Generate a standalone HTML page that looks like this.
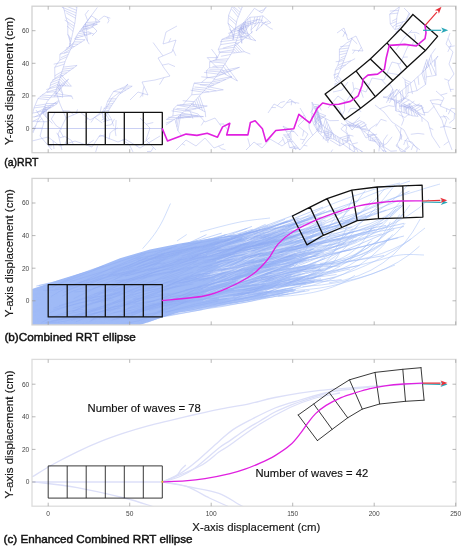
<!DOCTYPE html><html><head><meta charset="utf-8"><title>RRT figure</title>
<style>html,body{margin:0;padding:0;background:#fff}svg{display:block}text{font-family:"Liberation Sans",Arial,sans-serif}</style></head><body>
<svg width="466" height="550" viewBox="0 0 466 550">
<rect width="466" height="550" fill="#fff"/>
<clipPath id="c0"><rect x="32.0" y="6.2" width="424.0" height="146.5"/></clipPath>
<clipPath id="c1"><rect x="32.0" y="178.4" width="424.0" height="146.5"/></clipPath>
<clipPath id="c2"><rect x="32.0" y="359.4" width="424.0" height="146.8"/></clipPath>
<g clip-path="url(#c0)"><path d="M97.3 7.5L77.2 34.7L70.3 50.0L65.4 60.7L55.8 91.2L47.2 101.5L38.0 120.0L33.0 133.0M73.8 42.3L69.3 46.9M72.7 44.7L66.0 48.3M71.6 47.1L64.8 50.7M70.5 49.5L63.9 53.1M69.4 51.9L59.9 54.2M68.3 54.3L61.0 57.6M67.2 56.7L59.9 60.0M65.1 61.6L53.7 64.2M64.3 64.1L54.7 67.3M62.0 71.6L54.8 75.7M61.2 74.1L54.9 78.4M60.4 76.6L52.0 80.3M59.6 79.2L50.9 82.7M58.8 81.7L50.2 85.3M58.0 84.2L49.7 87.9M57.2 86.7L46.3 89.5M56.4 89.2L46.3 92.3M55.4 91.6L47.0 92.4M52.1 95.7L42.0 95.0M50.4 97.7L40.0 96.8M48.7 99.7L37.9 98.6M45.9 104.1L35.5 105.7M44.7 106.5L34.0 107.9M43.5 108.9L36.9 112.3M42.4 111.2L32.7 113.1M41.2 113.6L34.5 117.0M40.0 115.9L29.6 117.5M38.8 118.3L32.4 121.8M35.8 125.6L30.9 130.2M34.9 128.1L31.4 133.2M69.3 46.9L64.8 50.7L59.9 54.2L59.9 60.0L54.7 67.3L54.9 78.4L50.9 82.7L49.7 87.9L46.3 92.3L42.0 95.0L37.9 98.6L34.0 107.9L32.7 113.1L29.6 117.5L30.9 130.2M83.1 26.7L97.4 24.2L79.6 31.4M81.4 29.1L88.5 27.8M46.2 103.5L57.4 103.6L41.2 113.6M45.2 105.6L54.2 105.6M44.2 107.6L50.9 107.6M43.2 109.6L47.7 109.6M42.2 111.6L44.4 111.6M85.4 23.6L87.5 41.3L81.6 28.8M83.5 26.2L84.6 35.1M87.5 41.3L89.2 44.2M86.2 22.5L100.1 21.6L82.2 27.9M84.9 24.3L94.2 23.7M83.6 26.1L88.2 25.8M63.4 67.1L77.1 65.4L60.1 77.7M62.7 69.2L73.7 67.9M62.1 71.3L70.3 70.3M61.4 73.4L66.9 72.8M60.7 75.6L63.5 75.2M75.0 39.5L85.1 39.7L70.9 48.8M74.0 41.8L81.6 42.0M72.9 44.1L78.0 44.3M71.9 46.5L74.4 46.5M58.8 81.8L62.6 93.5L57.1 87.2M57.9 84.5L59.8 90.4M62.6 93.5L62.3 97.8M45.0 105.9L48.4 119.5L41.9 112.2M44.0 108.0L46.2 117.1M42.9 110.1L44.1 114.6M48.4 119.5L52.5 123.6M43.4 109.2L55.9 102.3L40.3 115.4M42.4 111.2L50.7 106.7M41.3 113.3L45.5 111.0M55.9 102.3L58.6 100.5M79.6 31.4L91.3 33.7L74.3 38.6M78.3 33.2L87.0 35.0M77.0 35.0L82.8 36.2M75.6 36.8L78.5 37.4M56.7 88.3L68.6 79.1L54.0 96.9M56.0 90.4L65.0 83.6M55.4 92.6L61.3 88.0M54.7 94.8L57.6 92.5M54.1 93.2L71.6 96.0L50.8 97.1M52.5 95.2L61.2 96.6M71.6 96.0L72.9 99.1M61.0 74.7L71.4 86.2L57.6 85.5M60.3 76.9L68.6 86.0M59.6 79.0L65.9 85.9M58.9 81.2L63.1 85.8M58.3 83.4L60.3 85.6M77.2 5.0L74.9 22.9L71.3 39.4L69.5 47.0M77.2 5.0L74.8 0.7M76.9 7.6L69.0 2.6M76.5 10.3L62.0 4.4M76.2 12.9L61.7 7.1M75.8 15.6L64.2 10.1M75.5 18.2L66.3 13.0M74.8 23.5L65.8 17.5M74.2 26.1L64.6 20.0M73.6 28.8L67.8 23.4M73.1 31.4L67.0 26.0M71.3 39.2L67.8 34.3M70.7 41.8L69.3 37.3M70.1 44.4L69.7 40.2M69.5 47.0L70.1 43.0M74.8 0.7L62.0 4.4L64.2 10.1L65.8 17.5L67.8 23.4L67.8 34.3L69.7 40.2M84.3 25.2L91.4 15.8L98.5 20.5L104.0 16.0L110.3 18.2M87.7 20.7L85.3 14.4M85.3 14.4L88.7 10.0M95.3 18.4L96.4 23.4M107.3 17.2L109.0 20.4M109.0 20.4L107.5 23.3M86.0 30.0L93.0 27.0L97.0 31.0L92.0 36.0M92.2 27.3L94.7 22.6M93.9 34.1L87.3 31.3M55.8 91.2L60.0 104.0L66.0 118.0L58.0 134.0L62.0 150.0M59.1 101.4L55.6 103.8M62.9 110.8L69.3 111.1M69.3 111.1L73.6 114.7M59.8 130.4L63.5 137.3M32.0 141.0L48.0 137.0L60.0 146.0L75.0 141.0L92.0 147.0L100.0 135.0L118.0 142.0L125.0 139.0L140.0 148.0L160.0 136.0M53.0 140.8L54.0 149.0M64.8 144.4L67.4 138.9M86.4 145.0L93.7 140.2M98.9 136.7L105.3 134.8M122.5 140.1L129.2 144.3M129.2 144.3L133.2 152.3M136.0 145.6L142.1 144.0M142.1 144.0L149.6 137.6M66.0 118.0L80.0 112.0L90.0 120.0L104.0 112.0L112.0 98.0L120.0 92.0M76.2 113.6L77.5 109.3M87.6 118.1L85.3 122.9M94.5 117.4L102.2 123.0M36.0 110.0L44.0 122.0L40.0 136.0L52.0 150.0M41.7 118.5L37.9 122.4M42.3 128.1L36.5 128.2M36.5 128.2L28.9 128.2M48.4 145.8L52.1 145.9M128.0 84.0L118.0 96.0L110.0 108.0L104.0 120.0M128.0 84.0L124.9 86.7M124.5 88.2L119.8 89.4M121.0 92.3L113.6 91.4M116.1 98.8L109.0 98.9M114.6 101.1L107.6 101.2M113.1 103.3L107.6 104.5M111.6 105.6L105.9 106.6M110.1 107.9L103.5 108.3M108.9 110.3L102.4 111.5M107.6 112.7L103.4 115.1M106.4 115.1L102.7 117.7M105.2 117.6L101.5 120.2M124.9 86.7L113.6 91.4L107.6 101.2L105.9 106.6L102.4 111.5L102.7 117.7M126.3 86.0L132.2 86.2L119.9 93.8M124.7 88.0L129.1 88.1M123.1 89.9L126.0 90.0M121.5 91.8L122.9 91.9M107.6 112.9L111.6 119.4L103.1 121.8M106.4 115.1L109.5 120.0M105.3 117.4L107.3 120.6M104.2 119.6L105.2 121.2M111.6 119.4L113.6 126.2M140.0 118.0L150.0 128.0L146.0 140.0L156.0 150.0M146.2 124.2L153.3 122.5M153.4 147.4L151.1 151.4M151.1 151.4L147.0 151.5M177.0 26.0L166.0 32.0L163.0 44.0L176.0 40.0L172.0 52.0L158.0 58.0L164.0 68.0L170.0 76.0L155.0 80.0L142.0 82.0L148.0 95.0L138.0 92.0L130.0 100.0M168.8 42.2L170.8 38.2M172.9 49.3L175.9 55.8M163.0 55.9L157.7 48.8M157.7 48.8L153.1 42.5M162.3 65.1L168.5 63.8M168.5 63.8L175.0 66.6M163.8 77.7L159.5 84.7M144.0 86.4L143.0 90.7M143.0 90.7L142.7 96.5M142.8 93.4L140.0 97.5M254.4 8.3L241.5 25.5L232.9 51.2L222.2 68.4L213.6 80.0L203.0 92.0L190.0 106.0L178.0 117.0L166.0 125.0M243.4 22.9L237.0 26.9M241.8 25.0L235.0 28.7M240.9 27.4L231.0 31.5M240.0 29.9L228.2 33.4M239.2 32.4L228.8 36.3M238.4 34.9L226.0 38.1M237.5 37.4L221.8 39.5M236.7 39.8L220.2 41.7M235.9 42.3L220.6 44.6M235.0 44.8L222.8 48.1M234.2 47.3L218.3 49.3M233.4 49.8L218.5 52.2M232.3 52.1L219.9 52.6M230.9 54.4L220.9 56.3M228.2 58.8L216.3 59.6M226.8 61.0L213.1 60.8M225.4 63.2L209.7 61.7M224.0 65.5L212.5 66.5M222.6 67.7L209.6 67.8M221.1 69.8L209.3 69.8M219.6 71.9L206.3 70.8M218.0 74.0L204.1 72.4M216.5 76.1L207.1 77.9M214.9 78.2L201.3 76.8M211.6 82.3L201.3 82.5M209.9 84.2L200.1 84.9M208.1 86.2L194.1 83.1M206.4 88.2L194.5 87.0M204.7 90.1L192.6 88.8M202.9 92.1L190.6 90.2M201.2 94.0L191.7 94.8M194.0 101.7L182.7 100.7M192.3 103.6L183.1 104.6M190.5 105.5L179.7 105.0M188.6 107.3L177.1 105.2M186.7 109.1L176.6 108.5M184.7 110.8L173.5 109.0M182.8 112.6L171.6 110.8M180.9 114.4L172.9 116.0M176.9 117.7L168.1 117.2M174.7 119.2L166.4 119.4M172.5 120.6L165.8 123.2M237.0 26.9L231.0 31.5L228.8 36.3L221.8 39.5L220.6 44.6L218.3 49.3L219.9 52.6L216.3 59.6L209.7 61.7L209.6 67.8L206.3 70.8L207.1 77.9L201.3 82.5L194.1 83.1L192.6 88.8L191.7 94.8L183.1 104.6L177.1 105.2L173.5 109.0L172.9 116.0L166.4 119.4M182.2 113.1L198.5 116.0L176.1 118.8M180.2 115.0L191.1 116.9M178.1 116.9L183.6 117.8M199.5 95.8L205.2 111.9L191.4 104.5M197.9 97.5L202.5 110.4M196.3 99.2L199.7 108.9M194.7 101.0L197.0 107.4M193.1 102.7L194.2 105.9M205.2 111.9L205.7 117.1M237.3 38.1L248.6 35.2L234.5 46.3M236.4 40.8L243.9 38.9M235.4 43.6L239.2 42.6M248.6 35.2L253.0 31.3M224.9 64.1L237.5 81.0L220.3 71.5M223.4 66.5L231.8 77.8M221.8 69.0L226.0 74.6M235.8 42.5L244.3 51.7L232.2 53.2M235.1 44.7L241.9 52.0M234.4 46.8L239.5 52.3M233.7 48.9L237.1 52.6M232.9 51.1L234.6 52.9M244.3 51.7L250.3 54.0M213.6 80.0L232.0 76.6L208.0 87.6M212.2 81.9L226.0 79.3M210.8 83.8L220.0 82.1M209.4 85.7L214.0 84.8M181.2 114.1L203.5 116.6L177.3 117.6M179.3 115.8L190.4 117.1M241.7 25.3L241.8 43.3L238.4 29.7M240.0 27.5L240.1 36.5M207.7 86.6L223.3 89.8L202.2 92.9M205.9 88.7L216.3 90.8M204.1 90.8L209.2 91.9M243.9 22.2L248.0 34.1L237.5 30.8M242.3 24.4L245.4 33.3M240.7 26.5L242.8 32.5M239.1 28.6L240.2 31.6M248.0 34.1L250.0 37.9M191.5 104.3L207.3 106.0L185.0 111.4M189.9 106.1L201.7 107.4M188.3 107.8L196.1 108.7M186.7 109.6L190.6 110.0M180.7 114.5L177.9 130.8L175.1 119.7M178.8 116.2L177.0 127.1M177.0 117.9L176.0 123.4M177.9 130.8L181.5 135.4M220.0 71.3L239.5 67.3L215.8 77.0M218.6 73.2L231.6 70.5M217.2 75.1L223.7 73.8M243.3 23.0L257.9 19.5L237.3 31.1M241.8 25.1L252.7 22.4M240.3 27.1L247.6 25.3M238.8 29.1L242.4 28.2M257.9 19.5L262.6 20.5M241.0 27.1L255.9 40.8L238.1 35.6M240.2 29.3L251.4 39.5M239.5 31.4L247.0 38.2M238.8 33.5L242.5 36.9M243.0 5.0L237.0 20.0L233.0 40.0M243.0 5.0L243.1 -0.3M242.0 7.4L238.1 0.5M241.1 9.8L232.7 1.1M240.1 12.3L228.4 2.2M239.1 14.7L232.1 6.5M238.2 17.1L231.7 9.1M236.6 22.1L228.6 15.4M236.1 24.6L228.8 18.1M235.0 29.8L228.0 23.2M234.0 34.9L229.4 28.9M233.5 37.4L231.5 31.9M233.0 40.0L233.3 35.0M243.1 -0.3L232.7 1.1L232.1 6.5L228.6 15.4L228.0 23.2L231.5 31.9M254.4 8.3L262.0 13.0L267.0 6.0M259.2 11.3L263.3 9.9M263.3 9.9L265.6 7.7M211.5 49.1L217.9 57.6L207.2 57.6L217.9 68.4M216.6 55.8L215.9 59.9M241.0 30.0L252.0 24.0L262.0 22.0L270.0 28.0M241.0 30.0L243.2 27.8M243.4 28.7L243.6 22.7M245.8 27.4L245.7 21.0M248.2 26.1L247.8 19.1M250.6 24.8L249.9 17.3M253.1 23.8L254.8 17.1M255.8 23.2L257.5 16.7M258.4 22.7L260.3 16.5M261.1 22.2L262.9 15.8M263.5 23.1L268.4 21.5M265.6 24.7L270.9 22.7M270.0 28.0L272.8 29.3M243.2 27.8L245.7 21.0L249.9 17.3L257.5 16.7L262.9 15.8L270.9 22.7M252.2 24.0L251.0 29.8L258.5 22.7M255.3 23.3L254.8 26.2M251.0 29.8L251.7 33.3M260.0 22.4L256.1 31.0L266.2 21.2M263.1 21.8L261.2 26.1M243.4 28.7L243.1 34.3L248.9 25.7M246.1 27.2L246.0 30.0M185.0 110.0L198.0 114.0L205.0 122.0L215.0 118.0L221.0 126.0M190.3 111.6L192.9 118.7M204.1 120.9L201.2 125.5M219.6 124.1L223.7 123.9M223.7 123.9L227.4 129.8M176.0 150.0L186.0 140.0L196.0 146.0L205.0 138.0L214.0 148.0L224.0 144.0M182.2 143.8L185.1 145.2M218.5 146.2L221.4 148.7M221.4 148.7L225.5 149.8M268.0 113.0L274.0 104.0L282.0 108.0L290.0 99.0L296.0 104.0M271.7 107.5L275.9 107.6M277.4 105.7L280.5 102.5M280.5 102.5L284.8 101.3M286.6 102.8L291.5 101.6M291.5 101.6L299.2 103.3M291.9 100.6L291.2 105.3M246.0 150.0L254.0 142.0L262.0 148.0L270.0 139.0L282.0 146.0L290.0 140.0L296.0 150.0M249.9 146.1L247.8 138.4M256.8 144.1L261.7 143.9M278.3 143.8L283.0 139.3M284.9 143.8L282.4 137.0M300.0 150.0L290.0 138.0L283.0 126.0M300.0 150.0L297.6 148.1M298.3 147.9L292.8 148.6M296.6 145.9L289.7 147.7M293.1 141.8L288.7 141.6M291.4 139.7L287.3 139.2M289.8 137.6L285.5 136.6M288.4 135.3L283.5 134.7M297.6 148.1L289.7 147.7L287.3 139.2L283.5 134.7M291.2 139.4L290.6 132.4L287.5 135.0M289.4 137.2L289.1 133.7M290.6 132.4L292.8 128.2M286.1 131.3L294.2 131.6L283.1 126.2M284.6 128.7L288.6 128.9M294.2 131.6L298.1 136.2M337.0 33.0L344.0 28.0L348.0 40.0L356.0 36.0L363.0 51.0L352.0 50.0M341.7 29.7L347.4 35.2M345.2 31.7L342.9 36.8M351.4 38.3L357.2 43.9M361.3 47.4L358.1 52.1M355.0 50.3L352.6 53.7M352.0 38.0L346.0 55.0L341.0 68.0L337.0 78.0M351.1 40.5L346.5 43.1M349.3 45.6L340.2 46.6M348.4 48.1L339.4 49.1M347.6 50.6L339.4 52.0M346.7 53.1L339.4 54.8M345.8 55.6L340.6 57.9M344.8 58.1L339.4 60.3M343.8 60.6L335.7 61.8M342.9 63.1L337.8 65.4M341.9 65.6L337.4 68.1M341.0 68.1L335.3 70.1M339.0 73.0L333.3 75.1M338.0 75.5L334.4 78.4M337.0 78.0L334.8 81.4M346.5 43.1L339.4 49.1L339.4 54.8L339.4 60.3L337.8 65.4L335.3 70.1L334.4 78.4M337.8 76.0L341.2 79.8L334.0 85.5M336.9 78.4L339.4 81.2M335.9 80.8L337.6 82.7M334.9 83.1L335.8 84.1M342.9 63.1L350.9 60.8L340.7 68.9M341.8 66.0L345.8 64.8M350.9 60.8L355.1 58.6M400.0 5.0L397.0 16.0L396.0 27.0M400.0 5.0L398.4 7.7M398.5 10.4L389.8 11.1M397.8 13.1L389.7 14.0M396.8 18.6L392.0 21.2M396.5 21.4L390.3 23.9M396.3 24.2L392.6 26.9M396.0 27.0L395.1 29.9M398.4 7.7L389.7 14.0L390.3 23.9L395.1 29.9M396.3 24.0L402.9 21.8L395.3 34.7M396.0 26.7L401.0 25.0M395.8 29.3L399.1 28.3M395.5 32.0L397.2 31.5M402.9 21.8L407.8 20.4M404.0 8.0L410.0 14.0L406.0 20.0M409.1 13.1L406.2 20.0M450.0 33.0L446.0 44.0L453.0 52.0L449.0 64.0L454.0 74.0L448.0 82.0L451.0 92.0M448.1 38.3L451.2 44.8M451.2 44.8L447.8 51.9M448.5 46.9L454.7 45.8M449.1 80.6L444.3 78.8M450.2 89.5L453.7 89.3M438.0 56.0L425.0 70.0L412.0 82.0L400.0 92.0L390.0 100.0M438.0 56.0L435.4 60.4M434.4 59.8L434.5 66.7M430.9 63.6L436.1 75.3M429.1 65.6L431.8 74.8M425.6 69.4L426.3 76.9M423.7 71.2L425.0 79.9M421.8 73.0L425.6 84.5M418.0 76.5L418.9 84.9M414.1 80.0L417.1 90.6M410.2 83.5L412.5 94.1M408.2 85.2L408.0 92.8M406.2 86.8L405.9 94.3M402.2 90.2L403.6 99.6M400.2 91.8L402.0 101.9M396.1 95.1L396.3 103.3M392.0 98.4L389.3 103.0M435.4 60.4L436.1 75.3L426.3 76.9L425.6 84.5L417.1 90.6L408.0 92.8L403.6 99.6L396.3 103.3M428.6 66.2L426.8 59.4L422.0 73.2M426.9 67.9L425.6 62.8M425.3 69.7L424.4 66.3M423.6 71.5L423.2 69.8M411.2 82.7L404.9 79.6L405.7 87.2M409.3 84.2L405.2 82.1M407.5 85.7L405.4 84.7M404.9 79.6L402.4 77.3M393.3 97.3L392.8 89.0L386.5 102.8M391.1 99.2L390.7 93.6M388.8 101.0L388.6 98.2M392.8 89.0L389.1 83.1M432.3 62.1L431.0 54.9L425.3 69.7M430.5 64.0L429.6 58.6M428.8 65.9L428.1 62.3M427.0 67.8L426.7 66.0M431.0 54.9L435.6 48.4M392.0 99.0L404.0 106.0L418.0 114.0M392.0 99.0L395.1 101.6M394.4 100.4L395.0 107.2M396.7 101.7L395.9 111.0M399.1 103.1L400.2 109.1M401.4 104.5L401.7 112.0M403.8 105.9L404.2 113.1M406.2 107.2L407.1 113.7M408.5 108.6L409.0 115.8M410.9 109.9L412.1 115.8M413.3 111.3L415.2 116.0M415.6 112.6L418.1 116.4M418.0 114.0L421.3 116.4M395.1 101.6L395.9 111.0L401.7 112.0L407.1 113.7L412.1 115.8L418.1 116.4M411.4 110.2L409.0 103.2L420.5 115.4M413.7 111.5L411.9 106.2M415.9 112.8L414.8 109.3M418.2 114.1L417.7 112.4M404.9 106.5L408.4 104.6L412.9 111.1M406.9 107.7L409.6 106.2M408.9 108.8L410.7 107.8M410.9 110.0L411.8 109.5M312.0 113.0L322.0 125.0L335.0 135.0L348.0 143.0L363.0 152.0M313.7 115.1L314.9 119.3M315.5 117.1L314.8 122.9M317.2 119.2L315.9 125.5M318.9 121.3L318.0 127.2M320.6 123.4L318.0 130.8M322.5 125.4L320.9 133.9M324.6 127.0L325.0 133.1M326.7 128.6L327.4 134.3M328.9 130.3L328.0 137.9M331.0 131.9L331.2 138.2M333.2 133.6L333.9 139.2M335.3 135.2L336.5 141.0M337.6 136.6L338.8 142.3M339.9 138.0L339.7 145.9M342.2 139.4L343.7 144.6M349.1 143.7L350.0 150.0M353.7 146.4L354.8 152.5M356.1 147.8L358.1 152.3M360.7 150.6L363.3 154.1M314.9 119.3L315.9 125.5L318.0 130.8L325.0 133.1L328.0 137.9L333.9 139.2L338.8 142.3L343.7 144.6L354.8 152.5L363.3 154.1M315.4 117.0L316.0 106.3L322.0 125.0M317.0 119.0L317.5 110.9M318.7 121.0L319.0 115.6M320.3 123.0L320.5 120.3M323.4 126.0L325.4 118.7L332.5 133.1M325.2 127.4L326.8 121.6M327.0 128.9L328.2 124.4M328.8 130.3L329.7 127.3M330.7 131.7L331.1 130.2M315.6 117.3L317.9 110.3L321.7 124.6M317.1 119.1L318.8 113.9M318.6 120.9L319.8 117.5M320.1 122.8L320.7 121.0M339.8 138.0L349.5 135.1L346.8 142.3M342.2 139.4L348.6 137.5M344.5 140.8L347.7 139.9M349.5 135.1L353.5 136.2M346.0 120.0L360.0 128.0L374.0 140.0L384.0 152.0M352.9 123.9L359.5 120.5M355.2 125.2L361.6 122.0M357.5 126.6L364.4 122.6M359.8 127.9L365.5 125.9M361.8 129.5L367.4 129.2M363.8 131.3L370.1 130.1M367.8 134.7L373.6 134.1M369.8 136.4L377.1 134.1M371.8 138.1L377.4 137.7M373.8 139.9L379.1 139.9M375.5 141.9L381.1 142.4M377.2 143.9L383.6 143.8M378.9 145.9L383.5 147.3M382.3 150.0L386.6 151.6M384.0 152.0L387.0 154.7M359.5 120.5L364.4 122.6L367.4 129.2L373.6 134.1L377.4 137.7L381.1 142.4L383.5 147.3L387.0 154.7M350.3 122.5L344.5 125.2L356.1 125.8M352.3 123.6L348.4 125.4M354.2 124.7L352.2 125.6M344.5 125.2L341.0 128.9M368.3 135.1L368.9 140.2L375.9 141.6M370.2 136.7L370.6 140.6M372.1 138.4L372.4 140.9M374.0 140.0L374.1 141.3M354.0 124.5L348.8 126.2L360.0 128.0M356.0 125.7L352.5 126.8M358.0 126.8L356.2 127.4M300.0 150.0L308.0 140.0L316.0 132.0L322.0 125.0M303.8 145.2L307.4 146.0M312.7 135.3L309.2 128.2M309.2 128.2L308.8 120.6M320.3 127.0L315.8 121.2M315.8 121.2L314.7 117.9M375.0 105.0L384.0 112.0L392.0 122.0L404.0 130.0L410.0 142.0L420.0 150.0M379.8 108.7L388.9 105.6M388.9 105.6L394.1 106.5M401.1 128.1L400.3 133.5M400.3 133.5L401.8 139.8M407.9 137.8L405.2 141.0M405.2 141.0L403.7 145.0M413.3 144.7L411.2 150.0M430.0 100.0L436.0 110.0L442.0 120.0L446.0 134.0L452.0 150.0M432.1 103.4L441.3 104.9M440.2 117.0L446.5 116.5M446.5 116.5L449.2 119.7M443.7 126.0L451.3 127.5M448.8 141.5L443.7 145.1M418.0 114.0L428.0 122.0L432.0 136.0L440.0 148.0M421.8 117.1L422.1 121.8M429.7 127.8L433.3 129.7M328.0 108.0L338.0 96.0L346.0 102.0L355.0 88.0L366.0 92.0L372.0 78.0L384.0 80.0L392.0 62.0L400.0 64.0L408.0 46.0L418.0 44.0M331.0 104.4L338.9 107.7M338.9 107.7L342.5 116.3M344.2 100.7L344.7 110.0M344.7 110.0L341.0 117.3M353.9 89.7L352.7 82.1M360.7 90.1L363.3 97.7M369.1 84.8L362.4 79.7M381.5 79.6L385.9 84.6M387.2 72.8L391.5 73.5M391.5 73.5L400.1 74.9M397.8 63.5L401.2 70.8M401.2 70.8L399.1 75.6M403.0 57.2L407.8 57.0M412.0 45.2L415.6 38.1M415.6 38.1L414.5 34.1M333.0 92.0L342.0 90.0L348.0 82.0M396.0 50.0L404.0 38.0L412.0 30.0M409.7 32.3L416.0 32.4M416.0 32.4L419.4 34.0M383.0 97.0L396.0 100.0L408.0 106.0L421.0 114.0M383.0 97.0L387.1 96.9M388.1 98.2L393.7 92.0M390.7 98.8L397.0 89.2M393.2 99.4L399.6 89.4M398.2 101.1L404.2 98.0M400.5 102.3L408.5 95.3M402.9 103.4L409.1 99.9M407.6 105.8L414.4 101.1M409.8 107.1L416.0 104.8M412.1 108.5L419.7 103.7M414.3 109.9L421.7 105.5M416.5 111.2L423.5 107.6M421.0 114.0L424.9 115.2M387.1 96.9L397.0 89.2L404.2 98.0L409.1 99.9L416.0 104.8L421.7 105.5L424.9 115.2M405.2 104.6L399.6 106.1L412.2 108.1M407.5 105.8L403.8 106.7M409.8 106.9L408.0 107.4M404.9 104.4L405.1 109.6L409.4 106.7M407.1 105.6L407.2 108.1M405.1 109.6L406.5 113.0M312.0 102.0L318.0 116.0L322.0 128.0L327.0 139.0M312.0 102.0L312.4 106.2M314.1 106.9L310.6 112.7M316.2 111.8L311.7 118.1M318.2 116.7L315.0 122.0M319.1 119.2L314.1 125.1M320.8 124.3L316.1 130.1M321.6 126.8L318.3 132.1M324.8 134.1L323.1 139.3M325.9 136.6L326.3 140.8M327.0 139.0L328.1 142.9M312.4 106.2L311.7 118.1L314.1 125.1L318.3 132.1L326.3 140.8M316.3 111.9L325.9 115.8L319.6 119.7M317.4 114.5L323.8 117.1M318.5 117.1L321.7 118.4M323.2 130.7L332.4 133.1L328.0 141.2M324.2 132.8L331.5 134.7M325.1 134.9L330.6 136.4M326.1 137.0L329.8 138.0M327.1 139.1L328.9 139.6M332.4 133.1L335.4 138.4M312.9 104.2L318.6 104.9L315.8 110.8M313.9 106.4L317.7 106.9M314.8 108.6L316.7 108.9M318.6 104.9L321.3 110.4M345.0 120.0L352.0 130.0L358.0 124.0L366.0 138.0L374.0 134.0L381.0 146.0M348.4 124.9L354.0 122.8M354.0 122.8L360.1 116.9M356.5 125.5L361.2 127.3M361.2 127.3L366.6 124.4M360.4 128.3L366.3 129.0M379.8 143.9L378.9 151.4M436.0 91.0L444.0 98.0L440.0 106.0L450.0 110.0L458.0 116.0M440.7 95.1L447.3 93.2M442.6 100.7L438.2 99.6M438.2 99.6L430.3 100.3M446.8 108.7L446.4 112.0M454.5 113.4L454.1 119.2M454.1 119.2L449.1 123.3M300.0 108.0L306.0 118.0L298.0 126.0L308.0 134.0L302.0 144.0M304.2 115.0L300.5 119.1M300.5 119.1L298.2 121.3M303.7 130.6L302.6 136.4M304.5 139.8L300.0 139.1M330.0 140.0L340.0 146.0L350.0 140.0L356.0 150.0M348.2 141.1L346.9 133.7M346.9 133.7L340.8 129.1M352.3 143.9L357.8 142.7M395.0 125.0L402.0 136.0L396.0 146.0L406.0 152.0M400.8 134.0L399.1 140.9M397.1 144.2L400.5 151.2M400.5 151.2L405.6 152.1M404.3 151.0L409.8 146.3M382.4 145.8L386.8 143.5L392.1 136.8M443.3 114.9L446.6 119.8L444.3 126.6L440.1 127.4M448.2 114.3L451.2 108.2L457.0 109.2L461.1 115.6L458.3 123.8M398.7 114.4L404.9 117.5L408.9 113.9M338.8 120.5L329.8 120.7L323.0 117.1L317.5 116.5M361.2 111.6L355.0 108.2L350.4 108.6L348.2 112.5M377.1 123.8L370.2 128.6L366.9 136.2M401.5 125.5L403.7 119.8L401.2 113.1L397.5 108.8M387.6 134.6L383.4 140.6L383.7 146.7L390.8 151.2L396.9 150.8M351.2 141.9L348.4 135.2L345.9 130.8L346.8 126.9L341.0 123.1M404.6 149.5L408.2 146.4L406.9 141.7M375.9 126.6L380.9 119.3L386.6 121.1M424.3 134.2L418.0 133.4L410.8 134.3M332.7 149.5L329.0 155.0L332.4 162.1L341.1 160.7M404.4 140.4L411.9 142.0L414.6 145.7L417.3 148.8L415.4 157.3M434.4 106.1L428.1 112.3L423.6 112.6L421.4 106.1L416.2 105.5M117.8 127.9L113.2 130.4L110.0 133.1L109.1 139.3M104.8 125.7L111.2 124.8L114.6 118.8M56.7 132.8L60.1 137.8L64.7 136.4L71.3 140.3L73.5 144.5M101.4 106.3L100.1 112.9L94.0 117.9L91.0 122.5M61.8 129.2L56.3 125.8L51.3 119.0L54.8 113.1M97.6 145.7L95.5 152.4L97.4 156.4L95.4 162.0M116.1 120.0L115.9 124.3L115.2 131.0L116.0 136.1M47.4 121.7L40.8 121.7L33.2 121.1L26.4 122.9" fill="none" stroke="#a6b0ec" stroke-width="0.5" stroke-opacity="0.9" stroke-linejoin="round"/>
<path d="M32.0 128.5H162.3" stroke="#a6b0ec" stroke-width="0.6"/></g>
<path d="M48.2 112.4H162.3V144.6H48.2ZM67.2 112.4V144.6M86.2 112.4V144.6M105.3 112.4V144.6M124.3 112.4V144.6M143.3 112.4V144.6" fill="none" stroke="#111" stroke-width="1.3" stroke-linejoin="round"/>
<path d="M325.1 94.0L340.9 82.4L356.0 70.9L370.3 59.0L387.0 42.9L400.5 29.0L412.9 14.5M344.8 119.5L360.6 108.3L375.3 96.7L392.9 80.5L407.1 67.2L425.4 50.6L437.6 36.3M325.1 94.0L344.8 119.5M340.9 82.4L360.6 108.3M356.0 70.9L375.3 96.7M370.3 59.0L392.9 80.5M387.0 42.9L407.1 67.2M400.5 29.0L425.4 50.6M412.9 14.5L437.6 36.3" fill="none" stroke="#111" stroke-width="1.3" stroke-linejoin="round" stroke-linecap="round"/>
<path d="M162.4 128.9L167.5 141.0L186.1 134.1L196.9 135.4L207.2 133.3L217.5 137.2L222.6 126.9L229.8 123.3L226.7 134.9L247.9 134.9L250.4 122.5L255.1 120.7L262.4 128.7L266.0 141.6L275.8 130.5L293.8 128.7L298.9 114.3L309.7 122.8L317.5 108.1L322.6 103.0L330.3 104.8L338.8 104.2L350.4 101.4L358.2 95.8L362.0 85.5L363.3 79.0L367.9 75.1L377.6 74.1L384.4 69.3L386.3 57.7L389.3 45.4L404.8 44.4L416.3 46.0L425.0 38.6L426.0 32.8L425.0 25.1" fill="none" stroke="#e020e0" stroke-width="1.6" stroke-linejoin="round" stroke-linecap="round"/>
<path d="M425.4 25.1L436.9 12.1" stroke="#e8313a" stroke-width="1.2" fill="none"/>
<path d="M441.5 6.8L438.9 13.8L438.0 10.7L434.8 10.3Z" fill="#e8313a"/>
<path d="M423.1 30.3L441.2 30.3" stroke="#2aa7b8" stroke-width="1.2" fill="none"/>
<path d="M448.2 30.3L441.2 33.0L442.9 30.3L441.2 27.6Z" fill="#2aa7b8"/>
<rect x="32.0" y="6.2" width="424.0" height="146.5" fill="none" stroke="#d2d2d2" stroke-width="1.3"/>
<path d="M48.2 152.7v-3.5M48.2 6.2v3.5M129.7 152.7v-3.5M129.7 6.2v3.5M211.2 152.7v-3.5M211.2 6.2v3.5M292.7 152.7v-3.5M292.7 6.2v3.5M374.2 152.7v-3.5M374.2 6.2v3.5M455.7 152.7v-3.5M455.7 6.2v3.5M32.0 128.5h3.5M456.0 128.5h-3.5M32.0 95.9h3.5M456.0 95.9h-3.5M32.0 63.3h3.5M456.0 63.3h-3.5M32.0 30.7h3.5M456.0 30.7h-3.5" stroke="#999" stroke-width="0.7" fill="none"/>
<text x="29.3" y="130.9" font-size="6.6" fill="#444" text-anchor="end">0</text>
<text x="29.3" y="98.3" font-size="6.6" fill="#444" text-anchor="end">20</text>
<text x="29.3" y="65.7" font-size="6.6" fill="#444" text-anchor="end">40</text>
<text x="29.3" y="33.1" font-size="6.6" fill="#444" text-anchor="end">60</text>
<text transform="translate(13.0 81.0) rotate(-90)" font-size="11.5" fill="#151515" stroke="#151515" stroke-width="0.15" text-anchor="middle">Y-axis displacement (cm)</text>
<g clip-path="url(#c1)">
<path d="M32.0 289.0L60.0 279.6L90.0 270.2L120.0 258.3L150.0 249.4L180.0 243.5L210.0 238.5L230.0 235.5L240.0 235.0L246.0 241.0L246.0 265.0L243.0 288.0L236.0 297.0L204.0 304.5L185.0 310.0L162.0 317.5L140.0 325.0L32.0 325.0Z" fill="#a0bbf7"/>
<path d="M114.8 314.4Q214.8 271.5 321.5 250.8M64.8 306.3Q131.6 302.1 196.3 284.9M133.8 290.5Q201.4 263.5 273.3 252.5M147.9 292.6Q223.7 274.9 294.2 242.0M103.7 311.8Q199.4 292.9 290.0 257.1M71.7 298.8Q140.9 292.1 209.7 281.9M32.4 311.8Q128.0 275.7 226.3 247.8M96.0 312.9Q195.6 310.0 293.5 290.9M34.4 316.3Q143.0 296.2 253.4 292.8M159.0 292.1Q238.9 259.8 320.8 232.8M101.8 315.8Q183.3 279.5 270.6 261.1M157.8 287.7Q208.9 274.7 256.7 252.2M104.5 296.8Q159.0 292.4 212.9 283.2M164.6 290.6Q228.6 270.4 294.7 258.2M111.0 317.9Q173.5 303.2 237.6 302.7M97.6 318.4Q185.3 292.3 268.9 255.2M46.2 301.8Q165.8 294.1 280.3 258.8M70.7 300.6Q152.8 272.0 233.1 238.8M98.4 297.9Q159.8 276.1 222.5 258.2M136.5 315.8Q200.2 299.0 262.1 276.4M69.4 303.9Q188.7 286.3 306.5 260.4M109.2 284.5Q165.9 272.5 220.3 252.5M118.1 316.7Q188.3 292.5 260.1 273.1M144.1 319.7Q219.0 292.4 293.6 264.2M54.1 318.3Q175.7 289.5 293.6 247.9M54.9 316.0Q160.0 300.0 262.2 270.7M116.7 313.5Q163.2 299.9 211.2 292.4M123.2 309.9Q182.1 294.8 242.6 290.1M74.2 291.4Q136.8 278.7 198.6 262.8M110.5 293.8Q187.4 275.6 265.0 260.7M47.3 318.1Q123.2 298.3 198.6 277.0M77.1 307.8Q238.8 278.2 398.2 237.9M81.1 289.8Q167.3 260.2 251.9 226.4M78.7 320.6Q140.9 298.9 205.9 287.8M162.5 304.3Q194.3 290.5 227.2 279.8M95.4 289.0Q168.6 281.3 239.8 262.5M33.8 305.8Q159.4 258.2 289.5 224.1M52.6 324.5Q155.1 303.3 256.4 277.0M130.9 288.8Q206.1 266.3 283.0 250.9M102.5 303.0Q185.1 276.0 270.2 258.5M88.9 307.6Q173.3 285.4 258.9 267.6M84.1 318.9Q156.3 300.8 224.9 271.9M124.4 301.7Q199.0 274.7 273.9 248.3M105.0 304.4Q156.4 285.2 210.5 276.6M62.6 317.6Q185.3 317.9 304.8 290.5M164.8 312.8Q223.4 309.5 280.0 293.9M126.8 289.5Q207.0 276.2 287.7 266.2M53.4 309.5Q128.0 285.8 205.9 278.0M108.5 314.4Q191.2 298.2 273.1 278.0M97.1 322.5Q149.3 308.8 200.6 291.9M99.3 321.3Q177.7 302.8 257.7 293.5M131.8 305.2Q174.6 293.0 218.7 287.4M126.9 310.9Q194.9 303.6 262.5 293.3M63.7 320.0Q147.1 297.6 227.7 266.9M39.1 290.2Q213.6 281.2 381.7 233.8M120.5 317.6Q188.7 301.2 258.1 290.1M113.6 298.3Q162.3 285.7 208.8 266.5M89.6 318.9Q171.7 295.4 254.9 275.9M133.1 284.0Q208.8 262.7 284.9 242.5M45.3 290.3Q137.5 263.1 232.8 251.2M65.8 295.4Q143.4 273.3 224.0 268.8M155.0 299.1Q232.9 285.1 306.3 255.4M47.7 311.4Q153.1 271.2 263.1 245.8M73.5 303.2Q169.5 267.9 269.0 244.3M121.4 322.6Q177.8 294.7 238.5 278.5M135.6 300.8Q192.3 277.0 250.4 257.1M64.4 286.1Q132.2 271.1 201.1 262.4M38.8 285.5Q180.4 252.3 321.5 217.0M145.9 292.8Q197.4 279.1 249.5 268.3M115.1 313.8Q198.1 289.3 283.5 275.7M49.3 287.4Q125.4 265.8 203.5 253.4M40.2 312.7Q126.2 288.5 215.2 281.0M87.9 296.9Q195.3 265.9 298.4 222.6M108.4 302.1Q208.0 270.3 304.3 229.6M67.6 317.3Q137.4 304.7 208.2 300.1M121.9 295.7Q195.0 268.6 272.1 257.2M49.3 298.6Q185.0 259.4 322.0 224.7M80.2 297.5Q164.4 260.6 254.0 239.7M102.5 291.0Q169.1 260.0 240.1 240.7M74.2 321.5Q158.4 311.5 238.8 284.6M102.8 323.8Q152.4 301.6 205.5 290.0M162.1 285.3Q202.0 268.5 243.7 256.9M68.8 292.2Q149.1 264.3 231.1 241.8M65.0 324.3Q187.7 279.6 316.0 255.8M142.6 304.1Q177.8 302.8 212.1 295.0M58.5 316.7Q163.6 288.4 264.0 246.1M82.1 284.4Q167.6 267.4 254.3 257.8M35.6 296.8Q142.8 277.5 243.1 235.1M140.5 321.9Q201.1 304.6 262.7 291.3M110.9 311.9Q167.1 302.8 223.7 297.7M109.2 315.1Q168.6 296.8 226.0 272.8M41.6 314.9Q170.0 280.3 291.6 226.5M130.2 309.1Q190.9 294.7 247.2 267.8M104.3 300.1Q170.3 296.4 234.4 280.3M153.1 309.2Q179.9 302.7 206.0 293.6M81.7 320.4Q155.0 314.4 225.9 294.9M54.3 309.9Q167.4 305.1 278.5 282.7M148.9 313.8Q192.9 300.7 238.0 291.7M69.3 308.8Q196.1 296.4 322.5 280.2M112.3 291.5Q184.7 275.3 255.0 251.4M40.2 303.9Q182.2 281.8 322.4 250.1M155.3 293.4Q216.5 274.4 279.9 264.3M52.8 287.8Q155.8 280.0 257.2 260.6M140.6 317.0Q217.3 297.3 288.3 262.1M45.7 288.2Q131.5 274.3 215.8 253.2M130.8 287.4Q190.6 276.5 249.9 262.9M81.8 312.0Q189.3 279.5 292.2 234.7M127.9 296.1Q186.8 290.3 243.4 273.0M82.8 295.9Q172.7 262.3 265.4 237.2M76.8 318.8Q139.0 307.7 200.1 291.9M83.4 322.3Q158.6 302.6 230.9 273.9M80.0 284.7Q158.9 259.4 241.3 251.2M159.0 312.2Q179.6 307.5 200.4 303.5M134.4 300.9Q228.1 278.8 314.5 236.3M132.6 320.6Q205.0 313.3 273.9 289.7M60.8 301.3Q150.2 276.7 242.5 268.3M54.5 302.8Q141.8 265.0 233.5 239.5M132.3 299.3Q204.0 285.2 274.1 264.5M44.0 288.6Q138.8 271.1 232.9 250.0M160.5 293.9Q190.4 283.6 221.6 278.4M96.0 312.9Q184.9 296.0 272.9 274.4M137.5 286.3Q167.4 276.4 198.9 273.5M71.6 302.5Q181.1 285.7 288.4 258.1M42.3 302.4Q168.3 269.7 296.7 249.1M105.4 318.0Q166.9 298.8 230.4 288.2M92.4 286.5Q160.4 272.8 229.6 266.8M68.7 316.1Q173.8 278.1 280.7 245.4M115.6 294.1Q198.2 269.0 283.5 256.6M50.3 286.1Q175.5 282.4 298.7 259.4M97.8 319.7Q176.4 311.1 254.5 298.4M113.4 293.1Q212.2 271.2 313.3 268.7M40.9 302.9Q164.2 270.0 285.1 229.1M144.2 288.9Q213.1 280.5 280.5 263.7M100.6 321.0Q156.6 317.8 210.7 303.1M59.3 287.6Q131.7 274.4 203.0 256.1M55.2 289.7Q162.1 276.2 264.4 242.5M120.1 301.2Q216.6 277.8 315.2 265.4M79.6 320.5Q166.8 287.5 258.6 270.5M134.4 297.8Q194.5 270.4 258.8 255.8M161.3 299.7Q214.3 288.3 268.1 281.1M45.9 301.1Q120.0 274.5 197.7 261.9M47.3 306.0Q169.3 268.3 294.7 243.7M105.3 323.9Q160.3 308.8 216.1 296.8M116.3 321.7Q194.5 293.4 276.9 281.8M156.9 303.1Q221.4 282.8 287.7 269.0M131.0 294.5Q200.0 270.7 271.6 256.6M124.4 313.9Q208.9 293.5 295.7 289.8M91.4 309.4Q183.6 284.0 274.8 255.1M65.5 298.6Q166.1 280.8 267.8 270.8M110.7 310.2Q195.8 275.9 283.2 248.1M148.6 289.4Q193.3 274.4 236.9 256.2M132.7 313.9Q212.1 302.0 290.3 284.1M88.0 318.3Q159.7 300.2 229.3 275.2M134.6 318.3Q190.9 300.9 249.1 291.5M117.7 293.4Q157.5 284.5 196.0 271.2M99.0 301.8Q185.2 289.5 269.3 266.9M91.1 312.1Q154.0 283.7 221.3 268.3M33.9 315.4Q137.5 291.7 241.3 269.2M101.4 285.0Q207.0 259.0 311.0 227.5M127.2 318.9Q161.3 304.3 197.0 294.5M40.8 297.9Q135.1 274.3 232.3 273.3M89.0 296.3Q190.1 290.8 288.3 266.5M123.7 292.9Q182.0 279.7 240.6 267.8M134.1 312.4Q222.6 293.6 306.0 258.4M137.5 301.1Q199.2 278.6 261.5 257.8M57.4 297.4Q160.9 265.6 263.9 232.2M143.8 299.0Q199.4 284.8 256.2 276.3M32.9 290.1Q120.3 290.3 205.6 271.7M142.9 297.4Q205.4 281.5 269.8 279.0M112.0 315.0Q194.6 298.5 276.1 277.8M103.4 291.0Q170.4 265.3 239.5 245.9M140.6 286.9Q177.9 272.4 217.2 265.0M129.1 300.7Q206.3 279.5 281.5 252.1M48.4 305.3Q150.1 256.4 259.7 229.5M100.2 303.2Q154.3 287.8 210.3 283.5M121.7 294.0Q162.6 284.3 204.2 278.6M44.8 298.2Q178.8 277.7 310.6 245.9M93.4 288.0Q191.4 268.3 284.7 232.1M39.7 293.4Q129.7 260.0 221.7 233.1M99.4 318.7Q169.6 297.1 240.6 278.6M88.7 289.4Q186.7 273.5 283.8 252.9M110.5 291.2Q190.4 286.8 269.1 272.8M152.4 286.8Q204.3 271.4 258.3 267.6M92.7 290.6Q180.6 276.6 265.0 248.8M114.4 318.7Q177.5 300.6 242.9 294.2M149.7 299.2Q238.2 274.7 321.6 236.3M164.6 289.3Q235.4 267.4 308.6 256.4M86.8 322.2Q154.3 305.6 220.8 285.6M92.4 295.7Q185.0 269.4 277.7 243.0M109.3 304.6Q211.0 288.4 311.7 266.8M53.6 322.3Q147.7 294.9 245.5 288.1M61.8 324.6Q167.9 290.3 278.3 275.2M164.4 314.3Q237.9 284.5 315.1 266.1M67.9 286.7Q166.7 258.4 267.7 239.2M145.0 318.9Q226.2 287.4 308.9 260.3M108.2 295.6Q163.5 277.1 221.3 269.8M64.9 299.1Q212.7 252.9 358.4 200.6M74.9 300.1Q165.5 264.4 259.1 237.3M51.9 284.4Q134.4 270.1 218.0 266.7M59.3 311.2Q143.8 294.1 223.5 261.2M47.8 308.3Q159.2 285.5 269.0 256.0M123.9 287.2Q183.8 275.6 242.0 257.4M78.1 303.5Q179.4 287.2 279.7 266.0M119.2 296.8Q179.4 275.0 242.5 263.7M91.3 307.0Q148.3 286.3 205.3 265.6M71.2 285.3Q139.8 263.5 211.3 255.5M78.8 312.5Q138.9 308.2 197.1 292.8M90.8 294.6Q168.0 287.5 244.0 272.4M95.5 306.0Q209.0 275.4 322.4 244.4M120.1 297.6Q176.7 284.5 232.1 267.0M155.1 313.0Q210.9 305.4 266.1 294.5M40.1 314.9Q144.0 296.0 244.7 264.5M94.3 322.5Q174.7 296.2 252.2 262.3M159.2 287.5Q233.2 275.3 304.1 251.1M51.5 303.9Q161.5 272.1 265.6 224.4M40.6 301.5Q183.9 266.3 321.8 213.7M102.7 311.4Q192.5 284.3 282.4 257.4M97.6 311.0Q148.8 291.9 200.0 272.9M37.6 291.8Q158.3 261.8 281.6 246.7M120.8 307.3Q206.7 287.8 293.6 273.9M79.1 294.2Q168.9 273.7 258.5 252.2M67.8 289.9Q169.8 268.2 271.3 244.4M148.2 297.0Q223.6 260.5 305.2 241.6M66.5 324.5Q166.5 286.8 269.5 257.9M93.9 321.3Q182.5 283.1 274.0 252.9M43.0 301.5Q141.8 282.3 240.8 264.3M72.9 315.9Q156.6 314.7 237.7 294.0M114.6 305.5Q187.3 281.1 262.9 269.0M35.9 289.0Q114.6 260.9 196.0 242.7M73.7 304.2Q175.0 269.8 281.1 255.4M150.4 307.7Q209.4 306.9 267.0 294.0M120.4 286.1Q198.6 260.0 279.5 243.7M40.5 305.4Q140.2 270.0 240.0 235.0M136.3 289.5Q268.6 251.7 403.9 226.5M162.4 297.2Q236.1 262.0 315.2 241.6M69.2 310.9Q187.0 292.9 305.9 283.6M54.8 293.2Q145.4 286.9 232.7 261.8M111.4 314.8Q187.2 282.4 266.9 260.7M130.3 314.9Q185.5 293.9 243.1 280.8M86.9 295.4Q192.3 290.4 294.5 264.2M38.2 302.8Q147.8 275.4 259.5 258.3M112.8 304.6Q188.0 286.0 263.7 269.5M137.3 322.2Q194.6 299.2 254.5 284.4M87.4 290.4Q174.0 263.5 264.4 256.2M35.0 311.5Q138.4 286.7 239.0 252.5M61.2 324.6Q159.8 306.2 253.7 270.6M113.1 313.1Q196.9 302.7 279.1 282.9M74.9 294.9Q184.8 265.3 293.8 232.7M119.2 294.7Q163.9 288.1 206.0 271.9M114.6 319.0Q236.3 288.5 359.6 265.4M133.1 307.6Q212.5 288.9 291.5 268.4M110.3 307.6Q158.0 288.5 208.2 277.7M140.5 314.7Q213.6 299.3 288.2 294.0M120.9 312.6Q158.2 303.5 195.2 292.8M162.9 293.4Q226.0 272.5 291.1 259.7M104.9 308.9Q203.8 288.3 301.2 261.8M86.3 294.9Q159.9 283.9 234.1 277.9M123.3 310.9Q201.3 300.6 277.5 281.2M122.3 301.5Q196.1 289.8 266.6 265.4M57.7 317.1Q174.3 298.6 289.5 272.4M163.7 297.9Q186.2 293.3 207.6 285.1M64.3 299.1Q195.5 258.4 323.0 207.1M67.3 313.9Q186.0 307.5 300.6 275.8M110.6 290.1Q184.4 279.2 258.7 272.7M66.2 304.2Q159.4 279.2 251.5 250.6M102.1 316.4Q178.9 288.7 259.5 275.8M47.2 319.5Q159.4 289.8 265.5 242.6M125.3 299.4Q197.6 273.6 272.2 255.5M80.4 322.4Q146.5 291.7 216.2 270.8M58.2 313.9Q151.1 289.0 242.9 260.1M153.9 294.7Q179.6 289.0 205.7 284.9M65.2 297.7Q163.0 267.6 263.7 248.8M50.9 288.7Q127.9 274.8 202.6 251.3M94.8 320.3Q171.8 304.4 249.6 293.3M149.5 313.0Q173.7 308.0 198.1 304.4M109.5 284.2Q198.7 255.4 285.1 219.3M112.2 325.0Q202.7 304.5 292.6 281.9M111.6 296.6Q180.7 279.7 244.3 247.9M158.5 285.8Q193.2 272.0 229.3 262.2M45.4 294.3Q125.5 262.6 209.5 243.5M114.4 289.4Q211.0 261.4 304.0 223.5M67.6 301.3Q153.1 277.1 234.6 241.6M115.9 287.4Q183.4 261.3 253.4 243.1M82.1 302.8Q184.3 271.2 288.4 247.1M99.5 290.6Q151.9 280.8 201.6 261.6M111.4 299.8Q181.3 289.1 251.1 278.5M58.2 302.2Q181.6 282.2 303.5 254.8M105.5 296.2Q170.3 276.3 236.1 260.2M103.6 307.0Q160.7 292.3 219.6 287.2M122.6 294.7Q182.7 291.1 240.6 274.7M37.1 289.8Q164.4 284.5 287.3 250.6M59.6 313.0Q178.9 285.9 295.8 249.9M49.5 302.1Q131.0 299.9 210.4 281.4M118.6 286.6Q206.3 257.2 294.9 230.2M116.1 322.0Q159.6 317.9 202.5 309.6M156.4 290.1Q209.5 274.8 264.0 266.4M133.5 316.0Q212.0 296.7 290.8 278.7M141.0 298.1Q230.9 284.4 321.4 275.8M94.0 306.5Q200.9 276.9 302.8 233.3M84.1 291.5Q191.8 273.5 299.6 255.9M121.6 324.4Q185.9 308.7 249.9 291.9M160.5 312.6Q212.8 300.5 264.0 284.4M82.0 316.0Q179.4 294.0 278.2 279.8M48.7 319.9Q201.4 306.9 349.9 268.9M64.5 296.5Q135.4 278.4 208.3 273.3M51.2 308.8Q167.1 258.8 287.5 220.8M133.0 297.9Q212.8 278.4 290.4 251.6M132.1 298.0Q181.2 277.0 232.2 260.8M73.2 302.1Q173.7 284.8 275.3 275.2M128.6 302.6Q186.4 284.3 246.8 278.7M158.6 314.0Q187.6 306.6 215.5 295.8M132.0 290.0Q205.3 285.1 277.1 269.4M72.3 299.8Q175.4 267.0 282.7 252.5M54.7 321.9Q170.2 307.1 280.0 268.4M48.6 293.2Q177.0 260.8 300.3 212.8M113.1 314.8Q165.2 305.1 217.1 294.8M36.3 310.3Q206.9 275.2 375.1 229.7M113.8 304.0Q217.6 276.4 318.2 238.7M58.3 304.1Q139.0 280.7 215.7 246.0M142.9 300.6Q177.6 289.6 212.9 280.9M111.7 290.7Q193.3 266.1 274.0 238.8M32.3 294.9Q117.8 288.0 202.3 273.7M106.8 312.3Q207.3 301.5 303.1 269.1M158.9 290.2Q230.5 272.1 303.6 261.7M131.2 306.9Q166.7 296.6 200.7 282.2M71.0 313.6Q159.7 291.5 250.2 278.2M41.4 301.8Q125.2 275.6 212.7 268.6M161.5 286.3Q225.9 277.6 290.2 268.6M39.4 306.3Q130.2 271.6 225.2 250.6M86.1 322.8Q146.1 310.3 206.9 302.2M120.5 322.4Q167.7 311.1 214.9 300.3M113.8 324.0Q178.6 297.6 246.4 280.5M121.1 295.1Q177.3 279.9 234.3 268.4M159.8 304.9Q200.2 292.0 241.1 280.9M109.2 295.3Q174.1 278.2 237.8 257.0M58.1 303.9Q127.9 298.7 196.5 284.7M50.4 316.5Q137.9 297.9 227.0 291.4M63.3 308.4Q131.3 291.4 198.9 272.8M100.6 316.7Q208.5 295.0 316.7 274.8M35.5 310.1Q154.7 276.0 270.4 231.5M76.3 313.8Q146.9 290.0 217.1 265.2M58.3 318.1Q164.8 284.4 270.0 246.7M93.6 293.7Q206.8 280.0 320.2 267.8M42.6 302.0Q133.7 282.4 219.3 245.8M57.9 299.6Q164.8 273.0 273.1 252.2M107.6 323.7Q194.0 294.9 280.3 265.8M142.9 313.7Q177.9 300.9 214.1 291.9M65.4 312.2Q180.2 292.4 289.6 252.7M50.4 308.2Q192.8 270.8 340.0 266.0M129.4 300.9Q221.7 285.3 315.1 280.1M67.1 285.2Q150.3 276.0 229.3 248.4M46.4 289.5Q167.0 270.8 282.3 230.3M156.3 307.4Q193.8 294.1 232.5 284.7M84.8 286.5Q180.0 258.7 278.3 246.1M126.8 301.1Q200.4 290.1 273.1 274.1M130.2 286.2Q205.7 260.8 284.5 248.7M70.3 308.1Q183.3 252.8 304.7 220.3M77.4 299.0Q138.4 271.3 203.2 254.0M42.9 324.2Q132.5 299.0 225.5 294.0M93.4 315.8Q170.1 312.5 244.6 294.6M148.4 305.9Q207.6 295.7 267.4 291.2M150.7 295.7Q222.5 282.3 294.7 271.3M52.7 306.4Q157.7 278.0 265.7 264.6M101.4 293.8Q188.2 273.7 276.5 261.8M104.0 293.4Q194.2 274.1 285.2 259.3M143.9 314.6Q219.3 291.6 297.7 284.6M122.8 318.4Q217.5 286.8 314.8 264.4M106.8 290.7Q201.7 279.0 295.7 262.0M60.2 318.7Q157.3 279.3 257.9 250.0M107.8 292.3Q174.7 276.2 243.2 270.9M108.6 321.5Q211.2 290.6 315.9 267.9M80.9 321.0Q169.8 299.5 258.0 275.2M122.5 317.2Q186.9 290.6 254.3 273.4M132.2 319.9Q192.3 310.3 250.2 291.3M69.6 316.0Q137.4 283.6 209.8 263.7M127.1 292.7Q161.4 287.7 195.7 283.3M65.2 285.9Q146.7 277.6 226.9 261.2M77.4 307.0Q165.5 305.8 251.5 286.8M108.6 303.4Q189.3 281.1 270.6 261.0M85.2 313.6Q158.4 307.6 229.5 289.2M73.5 314.2Q178.7 279.4 288.4 264.5M112.3 317.3Q158.9 310.5 204.4 298.1M40.5 297.3Q162.6 291.0 282.3 266.3M91.3 312.6Q205.0 306.4 315.2 277.7M136.9 305.4Q215.5 275.5 293.9 245.4M150.8 319.9Q179.3 310.9 208.3 304.2M107.6 304.6Q196.0 281.9 277.9 241.8M74.9 298.3Q201.5 277.7 323.5 238.1M73.9 309.3Q170.3 297.5 266.2 282.8M87.8 316.5Q148.8 306.5 209.0 292.4M97.9 284.5Q205.6 276.4 309.5 246.5M123.5 299.7Q214.6 277.0 305.1 252.1M103.6 294.6Q186.3 274.6 271.4 272.7M148.3 291.9Q184.2 280.7 221.3 274.8M33.6 323.3Q166.1 268.9 304.7 232.6M149.4 288.8Q204.8 267.4 262.9 255.2M115.9 296.0Q193.8 296.1 269.7 278.6M85.6 307.6Q184.8 291.3 283.9 275.0M91.1 307.4Q191.4 288.4 288.8 258.0M37.1 321.8Q160.7 302.5 280.4 266.5M161.5 308.4Q262.3 284.2 356.7 241.2M93.1 304.9Q192.4 294.6 291.1 279.4M55.2 298.4Q126.3 287.0 195.9 268.4M125.0 322.9Q204.1 307.0 280.4 280.8M50.7 297.6Q140.2 270.2 226.8 234.4M162.8 288.4Q213.9 273.3 262.1 250.6M119.8 303.5Q184.4 294.2 246.2 273.2M130.4 290.8Q194.9 273.4 255.4 245.1M39.2 301.3Q155.4 289.8 270.8 271.9M117.4 322.7Q213.3 296.7 308.9 269.9M35.8 292.0Q135.8 266.6 236.9 246.5M128.8 317.0Q204.4 298.2 279.1 276.4M112.5 302.1Q168.2 296.2 221.9 280.5M48.1 288.9Q170.7 257.8 291.6 220.9M152.5 290.3Q216.6 282.5 280.6 274.3M138.7 307.8Q231.1 290.7 322.7 269.7M124.6 304.8Q201.0 285.9 274.0 256.5M32.8 312.1Q129.3 302.5 225.0 287.3M103.0 317.4Q179.3 297.2 257.7 288.5M46.7 290.5Q169.7 263.4 293.6 240.8M100.0 294.3Q216.1 261.6 325.4 210.5M44.9 324.5Q152.1 308.5 253.5 270.5M150.5 314.8Q189.0 308.3 225.0 293.2M68.7 318.3Q148.6 295.5 231.6 290.7M89.2 289.0Q157.8 275.2 227.5 269.4M161.7 301.4Q207.2 289.3 249.6 268.7M147.9 314.3Q218.3 302.5 284.9 277.3M67.6 325.0Q146.8 294.8 229.3 275.1M48.9 319.9Q147.5 286.2 246.5 253.6M53.8 322.4Q157.5 297.4 262.5 278.4M55.8 298.6Q189.5 280.0 316.8 234.9M118.5 324.0Q201.3 300.2 283.1 272.8M54.3 284.7Q169.3 258.7 285.0 235.8M148.9 314.2Q203.5 300.8 259.5 296.3M153.3 306.0Q223.2 290.8 294.4 283.7M49.8 316.4Q181.1 267.1 318.5 238.9M164.7 297.4Q181.1 294.2 197.6 291.2M87.0 299.7Q173.1 279.7 260.3 265.0M121.1 314.5Q163.9 302.5 206.7 290.9M161.0 299.0Q179.3 295.0 198.0 293.8M55.2 288.4Q176.3 253.2 300.2 230.3M128.5 285.3Q189.2 279.3 247.4 261.0M158.9 315.0Q223.4 289.9 291.1 275.7M51.4 288.3Q153.2 267.8 256.4 255.3M92.9 320.1Q202.6 295.0 314.3 281.4M109.8 305.9Q179.0 289.3 249.6 281.4M136.0 291.7Q186.6 270.8 239.3 255.7M99.3 297.6Q160.7 281.4 224.1 278.9M50.1 297.1Q152.4 280.8 250.9 249.1M126.3 291.5Q166.8 283.8 206.3 272.0M63.7 319.5Q179.4 309.8 293.4 288.0M40.8 309.6Q118.8 297.2 197.1 287.1M145.1 316.7Q170.3 309.1 196.2 303.9M155.9 295.8Q209.8 277.4 262.9 256.9M120.1 289.2Q175.5 284.5 228.7 267.9M100.8 288.3Q185.7 276.9 267.0 249.6M114.7 312.2Q214.2 300.2 309.0 267.9M42.7 325.0Q162.0 287.0 283.8 257.5M70.1 291.2Q138.4 281.6 206.5 270.7M100.4 318.6Q162.7 306.6 222.1 284.3M131.4 306.7Q201.8 280.8 273.4 258.7M140.3 302.7Q202.4 291.3 265.5 288.4M86.7 301.2Q174.2 289.6 259.4 266.8M40.7 307.9Q172.2 297.7 302.7 278.6M136.6 310.0Q258.6 275.2 384.0 255.6M46.8 300.0Q150.2 277.0 252.3 248.7M94.4 312.7Q204.2 282.7 312.9 249.0M120.7 292.0Q183.6 277.5 247.6 269.5M87.1 315.7Q244.4 260.8 401.5 205.0M114.3 285.2Q212.8 255.8 315.2 245.5M156.7 301.6Q186.8 290.5 217.4 280.6M101.6 295.8Q179.6 269.4 257.6 243.0M160.9 285.0Q197.5 284.1 233.0 275.2M60.5 303.5Q166.4 294.9 271.6 280.0M37.0 318.4Q167.4 287.2 300.7 273.5M164.9 306.6Q231.1 287.7 297.7 270.8M73.7 323.7Q191.8 274.4 315.3 241.0M163.2 288.6Q216.0 276.9 270.0 274.2M130.0 324.4Q185.9 311.4 237.7 286.5M123.9 302.3Q205.6 280.7 285.2 252.0M67.9 302.0Q136.4 289.7 203.4 270.7M145.1 321.4Q210.7 294.1 280.0 278.6M34.0 321.4Q158.7 276.4 283.0 229.8M41.7 287.2Q169.8 251.4 302.4 241.7M133.8 295.2Q206.2 282.6 278.2 267.9M80.8 305.5Q166.8 299.8 249.6 275.8M60.1 301.2Q152.1 292.6 240.5 265.6M52.0 302.3Q176.1 266.0 300.1 229.3M128.6 294.5Q196.5 276.0 259.6 244.7M100.3 311.8Q187.6 291.8 272.5 263.3M65.5 320.2Q154.1 289.9 245.7 270.3M153.6 292.7Q203.5 277.9 254.7 268.5M133.9 289.6Q169.9 284.6 206.1 280.6M94.2 287.0Q170.0 257.5 247.1 231.5M100.1 293.1Q187.6 281.7 273.3 260.7M147.4 302.1Q217.1 289.8 287.6 283.7M152.8 294.5Q234.9 281.6 316.1 263.7M42.1 307.6Q151.4 286.9 262.4 278.3M108.5 313.6Q169.8 301.1 227.9 277.8M35.9 300.0Q157.7 260.3 284.3 240.4M91.1 297.9Q174.5 267.6 258.6 239.1M77.2 316.9Q197.7 313.5 314.1 282.3M77.2 308.4Q173.3 307.5 267.5 288.1M124.4 298.4Q170.7 284.9 216.3 269.4M132.0 312.4Q227.0 287.6 319.2 253.8M50.6 320.3Q134.2 306.4 216.9 287.6M109.5 319.0Q195.0 285.7 281.5 254.8M64.6 304.5Q162.2 282.2 262.4 279.1M48.3 296.7Q161.6 273.4 274.9 250.2M159.3 297.7Q186.2 292.0 211.3 281.0M98.0 315.4Q194.9 314.6 289.1 291.6M41.4 323.3Q177.8 308.9 307.7 265.3M60.0 313.6Q128.9 298.2 197.8 282.5M32.9 301.7Q132.0 274.4 231.4 248.0M88.9 295.8Q180.1 284.8 269.8 265.2M67.5 315.0Q137.0 306.9 204.4 288.1M118.8 324.9Q260.7 289.5 394.2 229.5M70.0 322.7Q236.7 268.3 398.3 200.6M46.9 313.8Q168.5 281.3 285.9 235.7M69.0 308.7Q177.7 285.4 283.5 251.3M135.6 310.0Q198.1 290.2 262.3 277.2M51.5 305.0Q163.2 280.9 272.2 246.4M136.5 285.3Q215.7 259.7 293.4 229.8M137.9 291.7Q220.8 260.3 307.0 239.2M82.5 290.8Q171.8 261.6 263.5 241.3M112.7 316.7Q162.3 305.4 212.7 298.5M123.0 299.5Q206.5 276.1 290.8 255.4M47.7 286.9Q156.9 270.9 266.6 259.5M37.2 298.0Q124.4 280.1 211.6 262.1M140.9 304.2Q212.4 297.0 282.2 279.8M126.2 286.8Q206.1 272.8 282.0 244.4M102.2 320.1Q180.2 307.0 257.0 288.1M100.5 297.3Q169.7 282.0 237.0 259.5M157.6 296.5Q184.6 289.1 210.6 278.6M163.7 316.3Q188.7 304.6 215.6 298.8M90.3 310.8Q161.8 281.8 236.1 261.1M104.5 285.8Q151.7 277.7 196.3 260.4M99.3 290.8Q193.3 264.5 288.4 242.5M102.3 286.0Q151.5 270.7 202.3 262.1M80.0 284.4Q243.7 262.7 404.1 223.3M99.8 296.6Q191.7 275.4 278.7 239.0M60.9 316.5Q183.7 303.3 304.9 280.1M131.2 302.2Q177.2 284.5 225.4 274.1M36.3 286.0Q155.0 266.2 268.2 225.5M150.9 306.1Q208.2 290.9 265.1 274.4M92.7 304.3Q167.8 277.4 246.3 262.9M164.5 314.8Q220.7 293.7 278.6 278.3M161.6 286.1Q228.5 281.3 293.0 263.1M113.0 322.3Q195.0 296.9 279.0 278.6M35.8 310.0Q123.6 299.4 210.8 284.3M135.3 287.8Q205.8 270.3 278.1 263.4M140.7 307.9Q183.8 291.4 229.1 282.5M84.8 284.9Q146.7 279.3 206.6 262.3M84.5 314.3Q205.8 305.9 323.5 275.0M131.2 285.7Q218.8 253.0 311.1 237.7M33.0 306.7Q116.7 270.8 205.2 249.0M109.9 294.8Q162.1 274.5 216.3 260.6M50.5 311.3Q145.8 307.1 238.2 283.9M112.1 286.5Q194.6 266.6 279.2 259.8M90.5 301.9Q222.0 254.3 357.6 219.9M93.2 302.9Q155.0 300.0 215.0 284.8M53.4 324.7Q162.1 297.6 271.7 274.3M36.4 305.3Q164.9 280.3 287.9 235.7M109.5 310.0Q210.1 299.6 308.8 277.6M133.0 314.5Q212.3 286.0 294.1 265.5M104.2 284.4Q180.6 264.1 252.2 230.8M59.4 319.7Q137.4 287.8 220.4 274.0M125.3 286.6Q165.2 276.2 205.5 267.3M59.2 320.6Q172.4 271.7 293.5 248.6M61.9 308.5Q166.9 287.3 273.7 278.3M78.7 314.7Q175.0 289.6 270.2 260.5M161.3 299.3Q188.6 297.3 215.2 290.7M152.0 302.7Q191.2 297.3 228.1 283.1M123.5 298.8Q184.2 280.8 241.9 254.7M69.7 300.1Q145.4 288.1 220.3 271.4M48.2 296.5Q147.0 264.5 248.8 243.6M134.4 324.6Q168.8 311.8 203.6 300.5M160.1 308.4Q213.8 302.0 267.6 296.4M46.3 315.7Q130.5 290.0 214.5 263.8M113.1 308.4Q172.8 296.3 230.5 276.2M153.9 309.7Q188.6 299.6 223.7 291.3M34.5 300.0Q123.9 276.3 206.5 234.6M64.9 312.0Q142.9 293.0 220.0 270.6M104.5 294.4Q165.0 275.4 227.4 264.9M39.6 324.7Q159.0 272.8 284.5 238.3M102.1 310.4Q201.4 269.8 306.1 246.6M128.4 302.3Q198.1 278.9 268.5 257.9M151.9 311.5Q215.3 300.4 278.3 286.6M162.4 291.8Q183.9 285.6 205.4 279.7M79.5 299.0Q145.3 283.8 211.0 268.2M98.0 300.9Q188.5 295.7 275.8 271.0M80.7 301.2Q161.4 270.0 245.2 248.7M98.8 303.4Q178.3 286.0 259.4 278.3M89.9 296.9Q187.7 260.1 290.6 242.1M116.3 308.7Q158.1 298.1 199.6 286.3M121.0 298.5Q171.3 283.2 221.3 267.0M99.8 296.0Q204.1 276.8 304.7 243.2M160.6 308.0Q220.8 290.6 277.3 263.6M35.6 297.6Q124.4 292.2 212.4 278.6M146.7 291.7Q214.7 270.2 282.8 248.9M62.3 295.3Q144.6 273.4 225.6 246.8M60.0 312.1Q186.9 273.1 318.5 255.8M84.2 295.7Q143.1 287.4 200.6 272.2M91.1 321.8Q182.3 297.2 269.8 261.8M96.1 295.8Q182.3 295.0 266.3 275.7M36.4 322.8Q163.7 300.8 289.0 269.6M72.1 293.6Q151.5 292.2 229.2 276.0M129.8 289.5Q193.8 287.0 255.6 270.4M119.5 316.3Q170.6 304.5 220.1 287.2M52.0 324.9Q177.4 292.7 306.4 283.6M136.2 306.5Q230.1 295.5 320.9 269.3M133.8 313.9Q178.5 306.7 222.2 295.1M112.4 306.1Q191.4 279.4 272.9 261.8M118.8 305.0Q197.9 285.1 278.5 272.8M121.8 297.8Q198.1 288.1 274.3 278.7M86.6 302.1Q146.3 280.3 208.1 265.5M58.9 309.8Q157.4 296.8 256.3 287.8M55.4 314.5Q170.1 297.4 280.2 261.0M39.7 298.3Q125.3 283.6 206.1 251.9M153.2 285.7Q207.1 267.4 262.3 253.2M87.8 322.3Q172.7 283.4 263.2 260.0M40.7 295.4Q212.8 258.0 386.0 225.4M96.8 298.2Q204.6 296.5 309.8 272.5M83.3 289.3Q167.0 275.8 249.4 255.2M89.8 308.9Q170.2 284.7 252.7 269.1M121.7 322.5Q161.8 317.1 200.3 304.7M61.4 309.1Q168.4 292.2 276.4 282.7M73.2 298.0Q152.1 284.7 231.1 272.6M142.9 315.1Q175.0 307.4 207.3 300.4M149.1 292.0Q196.7 286.1 242.3 271.1M150.9 292.9Q219.2 261.6 292.3 244.5M163.3 298.8Q190.9 296.5 217.3 288.3M68.5 289.0Q180.4 257.6 294.6 236.3M100.3 309.7Q187.6 294.0 273.2 270.7M112.6 288.0Q168.7 271.4 223.1 249.8M122.6 289.6Q163.8 285.2 202.9 271.5M44.8 309.5Q129.0 281.4 213.5 254.1M96.3 288.8Q185.5 264.3 270.5 227.8M57.8 321.8Q139.0 304.0 218.9 281.1M113.8 313.3Q157.0 307.7 199.4 297.8M85.8 306.6Q191.6 271.2 302.0 255.9M81.6 323.9Q161.4 300.2 241.7 278.4M64.5 305.6Q173.7 284.4 275.5 239.5M107.2 299.9Q151.4 288.6 196.6 282.0M49.2 303.5Q132.4 280.2 217.2 263.2M123.5 297.1Q200.6 280.0 275.3 254.3M100.1 286.7Q176.0 269.5 249.7 244.2M153.7 308.7Q224.2 287.3 294.4 264.9M72.1 309.3Q150.7 274.3 233.6 251.2M131.5 315.4Q205.8 295.3 282.8 291.7M143.3 296.4Q192.4 279.3 243.8 271.1M138.7 302.2Q193.9 293.6 249.6 289.2M75.3 294.9Q171.8 266.5 268.8 239.4M146.6 300.6Q211.5 286.1 277.3 276.2M49.1 321.2Q124.6 303.6 196.7 275.1M49.8 318.0Q129.9 298.9 207.6 271.8M48.7 307.1Q184.4 271.7 313.7 217.1M99.8 303.4Q189.9 296.7 277.8 275.9M63.4 288.9Q193.6 271.1 323.8 252.6M108.2 310.7Q176.0 301.3 244.0 292.7M163.4 304.3Q211.2 286.5 261.4 277.5M61.8 292.3Q140.8 255.3 225.5 234.7M130.8 286.6Q176.2 278.0 221.3 267.6M165.0 310.2Q229.2 301.2 292.9 289.4M73.2 309.8Q194.8 255.3 324.6 224.7M127.9 289.1Q225.8 257.9 322.1 222.3M116.4 316.0Q196.0 312.7 272.7 291.4M96.3 308.4Q185.7 287.8 276.3 273.8M130.7 300.6Q191.5 292.8 250.5 275.9M69.6 306.7Q144.3 297.2 218.5 284.7M143.2 306.5Q192.8 304.0 241.7 295.2M117.6 287.4Q216.3 249.5 317.7 219.4M67.0 299.3Q134.5 294.3 200.4 278.4M41.0 291.1Q160.5 266.6 278.5 235.8M129.3 307.6Q202.1 287.8 275.6 270.4M147.4 322.2Q201.5 301.1 257.0 283.9M76.7 308.1Q187.6 275.6 300.4 250.5M128.7 312.5Q189.7 302.2 247.3 279.5M46.9 292.8Q123.6 278.2 199.2 258.8M116.0 288.4Q172.9 278.9 229.3 267.1M75.6 284.9Q178.2 267.0 281.4 252.8M54.6 307.4Q135.1 277.5 219.8 263.6M118.8 294.3Q222.1 286.4 323.1 263.7M148.6 317.1Q193.0 310.6 235.3 295.3M135.2 304.7Q217.1 278.6 295.7 243.5M131.6 322.5Q213.5 292.5 299.9 280.1M114.1 288.0Q191.6 267.5 271.4 259.8M57.5 304.1Q189.2 276.7 323.6 270.1M137.8 310.6Q216.1 290.9 295.5 275.9M141.3 307.7Q170.3 304.3 197.8 294.4M38.5 303.7Q158.9 260.1 283.9 232.4M41.9 308.1Q145.0 279.7 251.1 267.2M147.5 299.6Q180.5 297.9 212.2 288.6M67.2 301.7Q149.7 259.7 239.4 237.0M86.5 309.0Q144.2 297.8 198.9 276.3M161.4 309.0Q236.0 304.5 309.4 290.5M136.3 308.0Q228.0 288.4 313.2 249.3M149.2 287.8Q176.4 280.7 203.8 274.3M79.1 307.9Q142.5 299.4 206.2 294.4M117.3 287.0Q182.2 265.0 249.0 250.3M115.1 285.6Q196.4 255.8 281.7 240.9M99.6 293.9Q197.8 272.9 292.8 240.2M59.6 318.1Q163.1 287.9 262.3 245.4M145.7 284.2Q194.9 268.1 246.3 261.5M102.3 319.3Q186.1 305.3 266.0 276.3M139.9 299.9Q169.3 295.3 197.9 287.1M99.9 304.7Q153.2 291.4 208.1 287.9M75.6 306.3Q155.9 285.1 237.1 267.3M119.7 284.9Q202.3 249.9 287.5 221.7M72.7 287.4Q168.6 270.1 262.2 242.8M144.2 310.0Q187.2 310.0 228.9 300.1M145.1 290.9Q205.0 276.9 266.3 272.2M140.4 316.3Q222.6 299.4 301.6 271.2M121.1 325.0Q178.7 305.6 238.8 296.2M92.4 305.9Q181.8 278.1 274.3 263.8M146.6 307.8Q232.4 277.1 319.4 249.8M58.5 301.7Q151.1 263.7 249.7 245.7M49.8 293.9Q139.5 277.8 230.6 274.2M105.0 296.3Q186.9 277.8 265.5 248.5M61.9 322.1Q137.7 300.4 210.4 269.7M90.7 321.7Q199.6 276.4 314.2 248.8M142.4 290.4Q181.6 278.4 222.4 273.5M102.2 319.8Q156.1 296.6 213.3 283.5M38.6 312.7Q213.2 277.9 382.6 222.9M163.9 310.1Q231.7 296.8 296.0 271.5M150.8 300.1Q181.2 290.1 210.8 278.0M60.9 314.6Q233.7 281.1 403.9 236.0M38.9 301.6Q164.5 264.1 289.3 224.1M118.3 294.1Q160.4 285.5 200.1 269.1M152.9 296.2Q206.6 278.1 261.7 264.6M86.2 317.1Q154.1 304.5 222.9 298.5M127.6 287.7Q180.0 274.9 232.7 263.3M124.4 293.3Q211.2 278.8 293.9 248.5M161.6 284.6Q205.1 271.8 248.9 260.2M87.5 300.8Q184.4 274.8 283.1 256.6M65.2 300.0Q144.7 283.8 224.5 268.8M116.9 310.3Q176.7 293.5 237.6 280.8M147.5 302.5Q225.1 301.9 301.1 286.2M82.4 317.3Q173.3 299.7 260.1 267.7M49.0 291.4Q157.9 271.9 268.4 267.0M101.5 304.5Q198.4 284.2 289.2 244.7M79.1 290.8Q181.7 250.3 290.0 228.8M123.6 313.4Q179.7 301.3 231.9 277.8M113.2 291.1Q188.1 255.3 267.6 231.9M142.9 313.2Q193.1 295.1 243.0 276.1M44.8 324.3Q147.0 303.3 249.9 286.3M118.5 317.2Q205.8 284.4 295.2 257.9M97.3 306.7Q181.8 295.9 263.1 270.8M54.6 315.3Q146.3 297.2 231.9 259.8M60.9 319.0Q158.6 294.4 249.2 250.5M130.5 304.3Q203.3 293.0 276.7 286.9M125.3 322.0Q168.8 310.3 210.4 292.9M71.6 316.2Q161.4 285.2 253.4 261.6M106.3 309.2Q166.2 306.1 224.2 290.8M49.5 291.6Q162.6 257.2 277.9 231.3M86.0 291.0Q181.3 267.1 279.1 258.3M76.3 319.3Q145.9 292.2 217.2 269.9M122.7 309.3Q212.6 289.0 304.7 283.5M141.9 287.2Q193.4 268.7 245.7 252.8M52.2 312.4Q138.8 295.7 226.8 293.1M97.4 307.3Q157.4 299.1 216.6 286.5M99.2 301.8Q187.1 296.1 273.5 278.4M75.9 323.4Q146.0 295.1 220.6 282.5M43.0 288.6Q120.6 265.6 197.5 240.5M67.1 290.4Q179.9 270.8 292.3 248.9M150.8 305.6Q177.4 297.8 203.1 287.6M60.7 320.3Q164.1 315.7 265.8 297.0M139.4 316.7Q181.1 306.7 220.2 288.9M101.8 321.4Q193.4 305.6 285.4 292.9M118.7 294.8Q200.6 278.9 279.9 252.8M78.4 321.5Q144.9 311.3 210.0 294.5M121.8 303.3Q183.4 288.6 246.4 282.0M41.7 320.4Q163.6 301.2 278.0 255.3M64.8 285.2Q134.3 270.6 203.7 255.7M96.0 324.3Q195.9 303.7 291.2 267.1M59.9 292.2Q175.8 277.5 286.5 240.3M105.6 323.3Q184.0 309.1 258.7 281.5M61.9 321.5Q174.6 309.9 285.9 288.9M144.0 291.5Q178.8 281.9 214.1 274.5M68.7 292.0Q132.9 280.7 197.5 272.4M142.2 319.7Q221.3 285.1 303.5 258.6M82.9 324.2Q210.0 288.9 341.6 279.7M161.8 292.5Q230.8 272.2 301.7 260.2M126.3 293.5Q214.1 267.5 302.3 243.1M151.2 312.6Q210.3 288.9 272.4 275.1M107.5 293.2Q192.5 257.0 280.9 230.6M159.8 287.0Q223.7 275.1 286.0 256.4M79.0 314.4Q162.9 295.1 248.9 294.0M32.6 294.1Q151.4 278.4 270.1 262.0M155.1 293.0Q192.4 291.2 228.7 281.9M35.7 311.3Q118.0 273.1 206.8 253.9M65.0 317.1Q182.4 295.2 295.6 256.9M133.1 311.9Q209.0 310.2 283.0 292.9M75.2 321.2Q160.6 299.8 248.4 292.7M55.4 317.8Q147.6 309.2 239.3 296.0M71.6 319.4Q177.9 280.0 284.7 241.9M91.5 310.5Q196.8 270.3 304.2 236.5M123.6 297.0Q160.5 289.6 198.2 288.2M126.4 302.0Q201.9 290.2 277.7 280.0M35.4 300.9Q146.0 258.4 260.9 229.8M145.5 306.3Q177.7 291.0 212.1 281.3M150.9 319.9Q208.8 293.5 270.4 277.4M151.0 289.1Q194.7 278.4 236.1 260.4M33.4 321.6Q177.1 299.9 321.0 278.8M58.7 311.1Q177.4 304.1 291.5 271.0M120.8 294.1Q207.8 272.8 292.1 242.9M66.1 319.6Q148.4 303.5 230.2 285.3M48.4 284.7Q151.6 260.8 252.8 229.3M72.1 303.5Q246.9 265.6 409.5 191.2M158.5 284.0Q190.1 273.8 221.4 262.5M65.2 289.5Q169.8 246.1 281.4 226.5M77.2 323.2Q184.9 288.6 296.7 270.7M164.0 315.0Q201.6 304.1 239.4 294.1M101.4 298.0Q199.1 287.3 292.2 256.0M115.1 310.1Q198.9 286.3 278.7 251.4M119.5 294.8Q200.3 283.7 278.2 259.6M127.4 292.2Q162.7 284.3 198.8 281.7M84.3 292.7Q163.4 289.6 239.8 268.6M55.5 324.1Q156.9 300.2 252.2 258.2M92.6 287.7Q185.7 277.1 275.7 250.6M145.9 309.7Q225.8 272.4 311.6 252.2M46.4 318.4Q155.7 292.1 267.0 276.8M45.3 302.1Q128.3 274.4 209.0 240.5M139.7 309.8Q192.0 305.8 243.1 293.9M107.4 307.6Q191.1 285.9 271.7 254.7M137.4 318.1Q216.1 301.7 295.5 289.6M157.7 299.5Q196.6 291.4 236.1 286.0M96.0 288.7Q178.3 253.8 266.2 237.2M97.6 320.6Q151.1 315.9 202.0 299.1M43.7 307.0Q142.7 276.6 239.7 240.3M84.9 313.0Q166.8 279.7 251.0 252.7M68.7 300.0Q180.2 294.2 290.2 274.3M145.6 313.2Q212.0 298.1 273.9 269.6M151.4 294.2Q188.7 291.8 224.8 282.1M141.9 307.6Q196.9 284.6 255.4 273.8M60.7 307.1Q175.0 264.5 290.2 224.4M130.4 303.1Q192.5 281.2 257.5 269.9M87.2 311.5Q177.1 297.9 267.9 291.9M85.1 296.3Q176.3 269.9 268.0 245.5M100.4 299.7Q163.8 285.2 228.9 285.2M140.4 308.9Q184.3 295.3 229.3 286.6M45.5 287.8Q155.3 256.5 265.9 228.4M42.9 306.7Q195.3 258.3 352.1 226.8M92.4 302.4Q167.0 285.7 239.9 262.6M152.0 305.7Q239.4 285.8 321.2 249.1M87.5 288.0Q189.8 261.3 295.2 252.7M57.9 288.1Q151.8 255.8 247.3 228.3M78.2 300.8Q156.4 269.4 236.8 244.1M149.6 307.4Q182.2 303.5 213.7 294.3M137.3 284.4Q181.5 279.6 224.3 267.3M147.1 290.6Q182.7 280.8 219.6 278.6M151.5 299.7Q217.8 274.8 284.4 250.7M96.8 291.8Q194.2 273.4 293.3 268.6M133.0 299.2Q239.6 271.9 346.1 244.0M53.0 312.6Q126.3 304.5 199.1 293.2M48.9 286.2Q170.8 276.1 289.7 247.0M39.0 305.2Q114.7 269.7 196.3 251.0M53.4 297.8Q182.5 268.2 312.8 244.9M81.8 296.3Q147.4 283.6 208.6 256.4M98.1 304.9Q156.2 292.8 215.3 287.8M44.5 305.2Q159.6 282.4 266.9 235.0M94.3 298.7Q183.5 271.4 276.7 265.3M122.3 288.7Q158.6 280.8 195.2 275.0M37.5 324.7Q158.8 301.8 273.1 255.2M142.7 311.5Q194.7 298.2 242.7 274.3M125.8 301.8Q194.5 273.3 266.8 256.0M90.4 310.7Q196.5 289.9 299.1 256.0M94.6 285.9Q160.8 273.2 223.1 247.6M158.8 296.4Q232.0 272.6 304.9 247.9M144.1 319.4Q214.7 289.8 290.1 276.9M77.7 315.7Q186.2 303.7 294.6 291.2M107.6 307.4Q166.2 298.8 224.7 289.8M48.4 321.8Q126.3 310.6 203.1 293.8M81.7 301.1Q143.9 275.0 209.1 257.6M112.0 321.9Q182.3 305.3 250.2 280.4M111.8 322.2Q166.7 304.5 222.2 288.6M52.9 285.6Q167.8 269.5 280.8 243.6M116.9 308.1Q157.5 297.3 198.8 289.7M154.0 293.2Q185.0 287.8 215.2 278.8M139.3 309.2Q225.9 283.3 316.2 277.6M74.7 290.5Q146.2 266.9 220.0 252.0M73.1 317.2Q181.1 283.9 289.6 251.9M60.8 292.5Q226.3 262.5 386.2 210.1M37.5 289.8Q137.2 273.8 237.3 261.8M132.5 312.3Q209.0 292.8 286.4 277.2M97.1 311.7Q171.3 304.8 244.3 290.0M75.9 324.5Q173.2 315.4 268.9 295.9M77.2 293.3Q149.7 268.9 225.3 257.4M38.5 313.8Q122.5 292.7 208.0 278.3M131.1 298.6Q214.1 274.9 296.8 250.5M160.4 292.0Q213.5 284.9 266.8 280.1M107.3 310.3Q188.1 294.0 267.8 273.1M92.0 299.4Q146.4 288.3 201.8 285.7M130.5 293.8Q178.9 282.9 225.1 264.8M134.0 303.9Q193.9 288.4 255.4 280.9M90.2 291.2Q147.7 277.9 202.8 256.6M128.0 322.6Q164.2 307.6 202.5 299.8M50.3 300.8Q171.6 284.6 289.7 252.6M80.5 300.9Q177.8 272.3 269.5 228.9M101.7 316.7Q201.0 283.6 300.8 252.2" fill="none" stroke="#a0bbf7" stroke-width="0.8" stroke-opacity="0.75"/>
<path d="M261.4 253.1Q284.0 247.3 306.2 240.3M264.8 233.7Q293.9 228.6 322.9 222.9M241.7 239.1Q256.5 233.9 272.2 232.9M214.9 246.3Q244.5 234.4 275.2 226.1M236.8 258.5Q264.5 245.6 294.9 241.9M201.6 286.7Q231.5 275.2 261.1 263.1M260.9 234.5Q276.6 229.6 291.5 222.7M236.4 283.0Q258.8 275.8 280.6 267.0M245.1 234.6Q258.7 230.9 272.7 229.1M219.5 242.9Q235.8 234.9 253.9 234.6M237.9 281.4Q272.0 264.4 309.2 256.3M220.9 248.2Q239.5 241.4 259.2 239.7M205.2 294.3Q226.3 288.2 245.2 277.0M269.6 246.2Q287.5 238.6 306.4 234.4M198.6 255.0Q229.6 246.7 260.5 238.0M226.1 276.3Q241.3 266.0 259.2 261.7M241.5 274.7Q262.1 268.0 283.7 265.4M248.9 259.8Q275.5 246.6 304.7 241.5M276.3 253.3Q290.6 254.6 303.0 247.6M241.1 249.4Q262.5 246.4 283.4 241.0M279.1 289.9Q314.0 272.8 350.7 259.7M200.7 273.3Q231.5 271.0 261.1 262.4M217.8 272.8Q236.3 269.6 254.2 264.2M218.4 265.8Q250.1 251.1 284.7 245.6M233.8 289.4Q256.0 288.1 276.7 280.1M215.9 269.9Q234.2 267.4 249.6 257.2M274.2 261.4Q303.9 254.6 333.1 246.0M267.0 252.4Q287.6 249.5 306.6 241.1M220.3 290.7Q242.5 283.2 265.9 282.4M277.2 248.1Q290.8 244.4 304.8 243.1M272.0 255.9Q309.3 245.5 347.7 240.0M245.6 264.5Q264.1 263.3 281.0 255.8M276.4 240.8Q303.9 229.8 332.0 220.2M236.8 236.2Q255.5 233.1 273.8 228.2M243.0 281.6Q265.0 271.4 288.6 265.8M249.3 284.7Q281.8 273.4 316.0 269.0M216.1 261.1Q234.9 254.7 253.9 248.7M265.5 232.8Q279.6 223.2 296.6 221.9M271.5 291.5Q290.0 286.0 307.5 277.9M266.0 283.7Q303.8 272.3 339.8 256.4M268.0 275.1Q289.2 270.9 308.1 260.5M202.9 288.7Q224.5 282.0 244.4 271.2M234.6 245.8Q268.5 232.7 304.4 226.9M245.8 240.9Q256.5 232.5 270.0 230.4M254.5 260.1Q267.3 257.1 279.2 251.5M263.2 262.6Q285.2 258.3 304.5 246.9M209.7 277.1Q234.2 266.5 258.7 255.7M212.6 264.9Q233.2 260.8 253.7 256.0M210.5 273.5Q222.5 268.5 235.1 265.3M203.6 294.2Q217.4 286.7 233.1 287.0M203.7 275.2Q218.0 272.9 232.2 269.8M264.9 258.6Q300.2 253.1 334.0 242.0M233.4 237.7Q260.5 231.3 288.1 227.7M210.1 274.9Q233.5 266.3 258.2 263.4M208.5 273.1Q241.8 257.9 276.2 245.5M235.2 254.8Q271.4 249.4 304.7 234.6M221.7 268.2Q236.7 267.6 250.9 263.1M218.9 298.4Q258.9 294.8 296.9 281.6M221.8 260.0Q260.7 252.0 299.7 244.3M253.8 271.6Q281.0 264.8 308.9 261.0M262.9 292.0Q286.7 283.1 309.5 271.9M237.3 282.7Q260.2 277.6 282.8 271.2M256.6 281.0Q276.6 274.5 296.9 268.9M214.8 278.9Q238.2 267.7 263.6 262.7M207.0 255.7Q231.9 249.1 254.2 236.2M219.0 238.8Q250.6 236.2 279.9 224.3M268.9 232.2Q291.8 223.8 314.1 213.8M244.2 259.9Q260.7 257.5 277.1 254.1M230.3 253.7Q256.3 249.9 281.7 243.4M196.7 277.3Q218.6 278.1 238.9 269.9M258.8 284.0Q272.8 282.4 285.1 275.7M266.3 264.2Q281.8 254.9 299.7 253.0M264.8 256.0Q279.4 249.5 295.1 246.9M203.4 300.4Q228.3 292.6 254.3 290.9M209.8 294.3Q234.6 283.7 261.0 278.3M271.6 273.1Q304.2 269.5 334.5 257.0M276.0 227.7Q308.3 216.0 341.8 208.1M215.0 284.1Q250.2 278.1 284.2 267.3M231.7 273.3Q260.2 262.1 288.6 250.7M266.0 284.6Q297.3 278.3 326.6 265.2" fill="none" stroke="#e4ecfd" stroke-width="0.6" stroke-opacity="0.7"/>
<path d="M120.3 303.7Q171.2 288.3 222.3 273.6M262.9 238.5Q281.0 237.2 294.9 225.7M230.8 237.4Q245.9 235.5 260.1 230.1M196.6 270.8Q213.5 261.4 232.7 259.4M137.9 260.9Q191.3 250.4 243.8 236.2M117.4 306.3Q155.4 301.8 192.6 292.7M157.4 311.5Q207.5 296.9 253.0 271.3M247.7 294.3Q266.1 293.7 280.3 282.1M101.0 302.6Q149.3 283.5 196.4 261.9M142.5 307.6Q171.2 301.9 198.9 292.7M122.7 271.2Q160.7 252.9 201.5 242.1M235.9 284.5Q254.9 276.8 275.4 275.6M200.7 271.5Q249.3 252.6 299.9 240.3M255.0 266.9Q300.7 259.5 344.1 243.4M139.3 310.1Q167.4 304.4 193.8 293.1M72.6 308.4Q106.7 300.8 136.6 282.6M198.5 267.6Q231.5 262.7 263.4 252.9M122.0 312.9Q155.2 301.8 190.2 300.7M69.8 281.7Q106.1 271.6 141.3 258.2M216.6 243.2Q257.9 230.9 299.1 218.1M136.5 258.5Q168.4 253.0 200.1 246.4M160.3 265.1Q195.8 251.6 233.7 248.6M221.6 288.9Q245.6 278.6 271.7 277.0M119.6 315.6Q144.4 307.8 168.9 298.8M220.8 270.5Q241.6 267.3 261.9 261.4M164.3 302.9Q186.2 294.2 207.5 283.9M218.4 256.5Q260.8 244.6 302.2 229.2M202.8 274.3Q228.4 267.1 254.9 264.6M233.6 296.3Q283.9 285.7 334.7 277.5M252.9 292.3Q268.1 281.4 286.8 281.1M53.2 309.7Q105.3 297.7 156.5 282.0M99.1 318.4Q114.2 310.8 131.2 310.6M94.8 302.7Q143.3 285.0 193.3 272.1M78.7 284.6Q113.6 271.8 148.0 257.5M161.9 298.0Q199.4 284.6 238.7 278.5M235.3 250.6Q281.6 237.7 328.1 225.5M195.5 290.5Q235.8 277.1 276.0 263.1M141.4 290.7Q157.0 291.1 170.9 284.0M250.6 252.4Q287.3 244.5 321.7 229.4M112.3 270.0Q154.1 258.7 195.9 246.9M91.5 301.5Q105.3 294.9 120.2 292.1M252.8 251.0Q299.4 236.1 342.4 212.7M131.3 315.0Q158.1 305.3 186.3 301.7M127.4 318.2Q173.0 311.2 218.0 301.2M165.5 312.6Q195.6 302.4 227.1 298.5M161.5 284.0Q188.0 280.7 213.4 272.5M65.1 286.7Q84.9 281.8 103.9 274.5M124.6 275.9Q143.9 273.9 159.6 262.4M230.4 254.6Q266.9 242.0 301.3 224.4M131.7 313.0Q159.0 301.4 188.4 297.5M202.2 296.1Q250.5 280.0 298.1 261.8M209.9 260.3Q235.7 253.9 258.7 240.5M190.6 275.5Q232.8 254.5 277.1 238.5M89.2 284.2Q126.1 267.4 164.6 254.2M199.0 280.8Q233.8 269.0 270.5 267.1M195.4 277.2Q209.6 269.4 225.9 268.3M127.0 323.2Q149.2 320.1 167.2 306.7M233.9 299.3Q269.0 281.3 306.4 269.1M53.3 308.2Q92.7 295.1 133.2 285.7M148.9 310.6Q182.1 299.9 217.0 298.1M87.8 297.8Q134.0 293.9 177.8 278.7M169.9 296.6Q203.7 294.6 235.6 283.2M204.4 299.1Q227.8 287.9 253.2 282.5M231.0 248.9Q282.2 231.8 331.5 210.0M225.2 291.2Q262.3 288.1 297.9 277.5M139.2 315.2Q164.8 312.9 187.4 300.7M263.5 237.9Q306.2 223.2 349.5 210.2M74.6 315.8Q113.1 305.7 147.1 285.1M51.0 296.5Q68.3 284.8 89.1 282.5M80.5 317.0Q111.4 310.8 141.0 300.0M257.0 294.3Q287.4 288.1 314.0 272.1M178.9 283.5Q197.0 280.5 212.9 271.2M235.0 275.3Q270.0 263.7 305.2 252.7M91.1 320.3Q103.8 309.1 120.7 308.3M171.2 302.2Q210.7 288.1 250.3 274.2M108.6 275.3Q141.7 258.2 176.9 245.9M52.0 287.5Q76.5 273.4 103.8 265.8M113.2 303.0Q152.4 290.0 193.4 283.9M89.7 321.5Q131.8 299.3 177.2 285.3M113.3 312.7Q133.9 306.9 155.0 303.2M111.5 320.3Q158.3 304.0 206.7 293.2M125.3 314.7Q161.3 305.4 195.0 289.9M75.8 321.8Q102.9 310.0 131.0 301.1M204.6 263.2Q229.0 258.5 249.2 244.1M162.9 316.4Q212.0 305.0 261.3 294.3M61.4 318.0Q92.0 313.4 120.4 301.1M111.5 281.5Q151.9 276.9 191.2 266.7M115.0 281.2Q148.1 279.0 179.9 269.7M177.1 260.1Q199.3 258.7 218.7 247.7M50.8 321.1Q76.5 317.2 101.2 309.0M227.1 262.9Q276.0 248.1 326.6 242.3M211.2 280.6Q244.4 273.0 273.5 255.5M206.2 253.1Q226.3 245.5 247.6 243.6M173.8 262.3Q211.4 251.9 247.4 237.1M229.6 266.9Q267.6 244.8 309.6 231.8M224.3 280.4Q241.1 277.6 255.5 268.7M166.7 285.6Q193.1 275.2 220.8 268.9M201.3 288.3Q218.8 286.6 235.8 282.2M125.3 276.2Q156.3 266.3 188.2 259.5M232.0 280.8Q265.8 264.0 301.2 251.3M171.6 283.5Q216.6 278.6 259.8 265.1M59.0 305.6Q92.7 297.1 123.4 280.5M170.6 301.0Q193.6 295.4 213.6 282.6M262.1 295.3Q296.7 278.2 333.3 265.9M192.0 257.6Q242.7 237.9 293.8 219.2M93.9 294.3Q121.3 288.9 146.8 277.4M181.8 256.3Q226.8 238.3 273.8 226.9M55.1 288.4Q73.0 285.7 89.9 279.0M232.8 296.4Q264.3 290.3 292.2 274.7M197.4 286.7Q222.3 280.2 244.7 267.3M103.2 275.3Q125.2 274.6 144.7 264.5M86.9 300.8Q118.0 283.2 152.9 275.2M162.6 279.1Q178.7 275.9 193.1 268.0M256.1 244.6Q290.4 239.2 322.8 226.4M222.0 253.6Q268.0 232.3 316.5 217.0M146.0 303.3Q189.9 287.5 235.7 278.7M146.9 274.2Q175.7 267.9 201.4 253.5M78.9 283.3Q111.5 267.1 145.4 254.0M132.5 298.9Q163.4 288.2 193.2 274.8M127.7 308.3Q147.7 302.7 167.7 296.7M184.7 300.5Q201.4 291.5 219.7 286.5M43.2 290.3Q63.6 291.1 81.9 282.0M250.6 281.9Q278.0 268.1 307.1 258.3M146.1 267.1Q162.4 260.3 179.1 254.7M71.8 311.3Q116.7 294.3 163.8 285.1M202.8 260.2Q224.2 259.9 242.6 248.9M131.0 312.8Q161.6 300.6 194.4 296.7M247.0 274.0Q298.2 257.6 351.4 249.9M182.3 244.2Q209.1 243.1 234.5 234.4M223.2 241.9Q239.3 232.7 257.9 231.7M263.9 245.7Q314.1 227.4 366.2 215.4M217.7 270.4Q252.6 262.1 287.7 254.2M216.7 277.3Q261.1 264.7 300.9 241.4M86.1 299.4Q107.4 295.2 128.3 289.0M133.5 303.3Q161.1 290.4 190.1 281.2M41.6 322.5Q60.9 311.2 83.2 309.3M104.2 318.2Q145.5 311.9 185.5 299.6M112.9 275.9Q143.9 272.6 174.0 264.7M114.6 279.3Q138.2 265.6 165.2 262.7M216.5 263.4Q230.5 255.5 246.6 255.0M74.4 292.0Q92.1 291.5 107.4 282.5M166.4 267.0Q193.7 259.3 221.4 252.6M237.1 293.9Q286.1 280.6 336.5 274.5M263.3 256.4Q289.6 248.8 316.8 246.0M249.7 257.7Q282.1 252.6 312.3 240.0M68.5 317.0Q93.0 308.3 118.8 306.3M212.1 260.4Q262.4 246.6 312.1 230.8M269.5 274.0Q298.5 270.8 324.9 258.5M218.4 294.3Q240.5 284.9 264.5 284.4M198.1 251.1Q221.6 247.6 240.7 233.5M145.6 275.7Q172.3 272.7 198.3 266.3M66.4 290.0Q85.2 284.3 103.2 276.6M49.9 312.7Q79.2 300.4 110.8 298.0M107.1 288.4Q151.7 271.6 198.1 260.3M217.4 251.1Q258.3 246.7 298.2 236.7M110.4 273.6Q137.9 264.3 164.7 253.0M48.2 322.3Q67.2 323.6 83.6 314.0M62.2 296.1Q84.5 284.6 109.5 283.1M202.5 281.1Q247.5 262.3 295.4 253.3M147.9 270.7Q193.2 260.4 237.5 246.3M225.7 243.4Q256.3 237.6 284.9 225.3M103.0 290.5Q125.6 289.2 146.5 280.5M127.7 269.6Q148.0 264.3 167.8 257.8M261.1 284.2Q280.8 269.7 305.0 265.5M63.1 292.5Q98.4 276.8 136.3 269.8M171.3 269.5Q220.5 251.7 270.6 237.0M72.5 312.1Q91.3 300.3 113.6 299.9M242.6 290.1Q265.8 282.2 289.9 278.3M141.2 277.3Q156.3 269.1 173.4 269.2M261.4 231.0Q306.0 213.8 353.5 208.0M247.7 263.7Q272.8 259.5 297.7 254.1M46.1 317.2Q87.1 312.0 126.6 299.7M199.9 254.9Q224.1 240.3 251.1 232.3M220.7 271.7Q236.6 265.6 253.3 262.3M149.4 259.5Q184.2 255.4 216.4 241.7M250.6 239.1Q288.2 229.8 325.7 220.1M45.6 322.6Q77.6 316.8 109.4 309.9M240.6 249.9Q266.7 242.6 290.4 229.2M185.1 290.0Q218.1 284.8 247.8 269.6M90.6 282.6Q127.1 269.8 165.6 267.5M242.6 258.0Q291.0 245.9 340.3 238.7M202.4 247.7Q254.7 231.4 308.6 221.7M122.7 311.7Q137.1 301.4 154.8 301.0M251.1 251.0Q299.0 233.4 348.1 219.9M98.5 293.6Q128.5 280.3 159.8 270.5M90.6 310.6Q135.7 295.0 179.8 276.9M143.1 265.3Q191.4 247.5 241.4 234.9M96.9 282.9Q131.8 272.9 165.3 259.2M165.3 306.7Q212.2 298.2 259.0 288.5M265.5 273.6Q310.3 259.1 352.5 238.3M73.7 298.7Q115.9 276.6 161.3 262.1M219.5 277.7Q252.2 263.1 287.8 259.3M189.5 258.7Q230.1 256.2 268.7 243.4M193.5 265.0Q243.7 247.7 295.4 235.6M265.8 255.7Q311.0 244.9 356.7 236.9M113.1 291.6Q163.1 280.5 210.2 260.5M234.8 286.7Q284.5 273.3 334.8 262.7M254.0 266.3Q284.5 256.6 316.0 251.4M187.5 255.3Q208.5 248.3 228.5 239.1M234.0 278.1Q258.8 273.0 282.6 264.2M92.5 313.8Q109.7 310.6 123.7 300.2M133.7 299.1Q165.0 297.2 194.9 287.8M269.6 257.9Q311.7 243.6 354.4 231.5M164.0 288.7Q183.4 276.5 206.1 273.2M166.8 252.9Q182.0 249.4 197.4 246.7M155.2 285.2Q172.6 282.1 189.1 275.8M48.8 288.2Q94.4 268.9 141.5 254.0M120.0 297.5Q162.9 287.4 205.7 276.5M230.1 295.2Q268.7 290.2 305.3 276.6M111.6 285.7Q147.1 273.4 181.8 259.1M70.9 320.5Q116.8 305.1 164.0 294.6M92.5 288.4Q120.1 283.0 146.6 273.6M220.0 252.5Q258.4 234.8 298.1 220.2M262.8 250.5Q309.0 226.4 359.2 212.3M200.9 291.8Q243.3 281.2 286.6 276.1M140.3 254.0Q156.1 251.8 171.6 247.9M129.8 316.5Q155.9 304.2 184.3 298.8M136.8 267.1Q158.5 257.5 181.6 251.9M125.5 304.5Q146.2 294.4 169.2 293.6M184.7 279.5Q205.6 277.6 225.7 272.0" fill="none" stroke="#8fabf3" stroke-width="0.6" stroke-opacity="0.7"/>
<path d="M142.6 248.6C143.8 247.2 147.8 242.8 150.0 240.0C152.2 237.2 153.8 235.3 156.0 232.0C158.2 228.7 160.6 224.8 163.0 220.0C165.4 215.2 169.2 206.2 170.5 203.5M177.0 241.0C178.6 239.9 185.1 235.6 186.7 234.5M250.0 275.0C258.3 272.8 285.0 267.8 300.0 262.0C315.0 256.2 328.0 248.3 340.0 240.0C352.0 231.7 362.8 221.2 372.0 212.0C381.2 202.8 391.2 189.5 395.0 185.0M260.0 285.0C268.3 283.3 295.0 279.5 310.0 275.0C325.0 270.5 337.5 264.7 350.0 258.0C362.5 251.3 375.0 243.8 385.0 235.0C395.0 226.2 405.8 210.0 410.0 205.0M255.0 290.0C264.2 288.8 293.3 286.3 310.0 283.0C326.7 279.7 340.8 275.5 355.0 270.0C369.2 264.5 383.3 257.0 395.0 250.0C406.7 243.0 420.0 231.7 425.0 228.0M270.0 292.0C278.3 291.3 305.0 290.3 320.0 288.0C335.0 285.7 347.5 281.8 360.0 278.0C372.5 274.2 389.2 267.2 395.0 265.0M290.0 240.0C296.7 235.8 316.7 222.5 330.0 215.0C343.3 207.5 356.7 200.7 370.0 195.0C383.3 189.3 403.3 183.3 410.0 181.0M280.0 250.0C288.3 246.7 314.2 237.5 330.0 230.0C345.8 222.5 360.0 211.7 375.0 205.0C390.0 198.3 409.2 193.5 420.0 190.0C430.8 186.5 436.7 185.0 440.0 184.0M200.0 232.0C206.7 230.3 228.3 224.3 240.0 222.0C251.7 219.7 265.0 218.7 270.0 218.0M290.0 225.0C296.7 221.7 316.3 210.8 330.0 205.0C343.7 199.2 360.3 193.7 372.0 190.0C383.7 186.3 395.3 184.2 400.0 183.0M300.0 255.0C307.5 252.5 331.7 245.5 345.0 240.0C358.3 234.5 370.5 228.7 380.0 222.0C389.5 215.3 398.3 203.7 402.0 200.0M280.0 280.0C288.3 278.7 314.7 275.0 330.0 272.0C345.3 269.0 360.3 264.8 372.0 262.0C383.7 259.2 391.3 256.2 400.0 255.0C408.7 253.8 420.0 255.0 424.0 255.0M259.0 282.5Q323.2 277.2 353.5 238.5M263.4 287.3Q335.8 281.8 369.9 241.7M287.9 249.9Q322.1 245.3 338.2 211.4M294.8 238.0Q366.5 234.2 400.3 206.4M264.8 245.9Q346.3 239.0 384.6 188.9M319.4 264.5Q355.0 260.1 371.8 228.1M287.3 243.0Q366.6 238.4 403.9 204.6M258.2 289.5Q298.1 281.5 316.9 223.1M283.5 269.8Q333.8 264.5 357.5 225.6M260.9 246.8Q336.1 243.0 371.5 215.0M311.3 241.8Q391.4 236.7 429.1 199.1M309.8 265.2Q378.6 262.1 410.9 239.1M285.5 285.6Q329.1 277.6 349.6 219.4M320.4 251.5Q371.8 246.4 396.0 208.9M277.8 296.6Q330.2 294.1 354.9 275.3M252.9 284.9Q334.2 279.5 372.4 240.1M286.8 268.9Q356.4 265.2 389.2 237.8M296.8 266.9Q360.4 263.4 390.3 237.9M259.5 264.0Q337.6 259.5 374.4 226.6M295.8 252.0Q334.7 249.3 353.0 228.8M314.2 276.0Q366.0 269.5 390.4 221.9M302.5 286.6Q382.1 281.8 419.5 246.2M329.1 282.8Q391.2 275.1 420.4 218.7M286.7 258.6Q332.5 250.9 354.0 194.8M258.8 249.1Q331.1 242.1 365.2 190.5M286.1 286.1Q322.6 282.1 339.7 253.2M269.6 265.5Q311.8 262.6 331.6 242.0M273.7 291.7Q354.5 284.8 392.6 234.4M285.7 251.6Q365.4 246.0 402.8 205.3M306.9 232.0Q351.0 228.1 371.8 199.9M319.9 263.5Q374.2 257.6 399.7 214.4M317.2 246.2Q376.6 242.1 404.6 212.4M310.3 229.9Q376.9 224.4 408.3 184.5M295.5 272.5Q370.0 266.6 405.1 223.3" fill="none" stroke="#a0bbf7" stroke-width="0.7" stroke-opacity="0.7"/>
</g>
<path d="M48.2 284.7H162.3V316.9H48.2ZM67.2 284.7V316.9M86.2 284.7V316.9M105.3 284.7V316.9M124.3 284.7V316.9M143.3 284.7V316.9" fill="none" stroke="#111" stroke-width="1.3" stroke-linejoin="round"/>
<path d="M292.4 216.0L310.1 207.1L327.1 198.6L351.8 190.1L377.3 187.0L402.8 185.8L422.1 185.1M307.0 244.9L323.3 235.3L341.8 227.5L357.2 220.6L378.5 218.7L403.6 217.9L422.9 217.1M292.4 216.0L307.0 244.9M310.1 207.1L323.3 235.3M327.1 198.6L341.8 227.5M351.8 190.1L357.2 220.6M377.3 187.0L378.5 218.7M402.8 185.8L403.6 217.9M422.1 185.1L422.9 217.1" fill="none" stroke="#111" stroke-width="1.3" stroke-linejoin="round" stroke-linecap="round"/>
<path d="M162.4 300.5C169.3 299.8 192.9 298.2 204.0 296.0C215.1 293.8 220.5 291.2 228.7 287.5C236.9 283.8 246.8 278.5 253.4 273.7C260.0 268.9 264.1 263.8 268.2 258.9C272.3 254.0 273.9 248.6 278.0 244.1C282.1 239.6 286.3 235.9 292.9 231.8C299.5 227.7 309.4 223.0 317.6 219.4C325.8 215.8 335.1 212.8 342.2 210.5C349.3 208.2 353.7 206.9 360.0 205.6C366.3 204.3 373.3 203.3 380.0 202.5C386.7 201.7 393.0 201.3 400.0 201.0C407.0 200.7 418.3 200.8 422.0 200.8" fill="none" stroke="#e020e0" stroke-width="1.3" stroke-linecap="round"/>
<path d="M422.0 202.0L440.8 202.4" stroke="#2aa7b8" stroke-width="1.2" fill="none"/>
<path d="M447.8 202.6L440.7 205.1L442.6 202.5L440.9 199.7Z" fill="#2aa7b8"/>
<path d="M422.0 201.0L440.3 200.4" stroke="#e8313a" stroke-width="1.2" fill="none"/>
<path d="M447.3 200.2L440.4 203.1L442.1 200.4L440.2 197.7Z" fill="#e8313a"/>
<rect x="32.0" y="178.4" width="424.0" height="146.5" fill="none" stroke="#d2d2d2" stroke-width="1.3"/>
<path d="M48.2 324.9v-3.5M48.2 178.4v3.5M129.7 324.9v-3.5M129.7 178.4v3.5M211.2 324.9v-3.5M211.2 178.4v3.5M292.7 324.9v-3.5M292.7 178.4v3.5M374.2 324.9v-3.5M374.2 178.4v3.5M455.7 324.9v-3.5M455.7 178.4v3.5M32.0 300.8h3.5M456.0 300.8h-3.5M32.0 268.2h3.5M456.0 268.2h-3.5M32.0 235.6h3.5M456.0 235.6h-3.5M32.0 203.0h3.5M456.0 203.0h-3.5" stroke="#999" stroke-width="0.7" fill="none"/>
<text x="29.3" y="303.2" font-size="6.6" fill="#444" text-anchor="end">0</text>
<text x="29.3" y="270.6" font-size="6.6" fill="#444" text-anchor="end">20</text>
<text x="29.3" y="238.0" font-size="6.6" fill="#444" text-anchor="end">40</text>
<text x="29.3" y="205.4" font-size="6.6" fill="#444" text-anchor="end">60</text>
<text transform="translate(13.0 253.2) rotate(-90)" font-size="11.5" fill="#151515" stroke="#151515" stroke-width="0.15" text-anchor="middle">Y-axis displacement (cm)</text>
<g clip-path="url(#c2)" fill="none" stroke="#dcdff8" stroke-width="1.3">
<path d="M32.4 476.8C35.9 474.7 46.1 468.2 53.6 464.0C61.1 459.8 69.3 455.6 77.2 451.8C85.1 448.0 92.9 444.5 100.8 441.4C108.7 438.2 116.5 435.5 124.4 432.9C132.3 430.3 140.1 427.9 148.0 425.8C155.9 423.7 163.7 422.0 171.6 420.1C179.5 418.2 187.3 416.3 195.2 414.5C203.1 412.7 209.8 411.1 218.9 409.3C228.0 407.5 240.7 405.6 250.0 403.6C259.4 401.6 263.3 399.7 275.0 397.5C286.7 395.3 304.2 392.2 320.0 390.4C335.8 388.6 352.8 387.6 370.0 386.5C387.2 385.4 414.2 384.0 423.0 383.5"/>
<path d="M31.6 482.0C53.4 482.0 140.6 482.0 162.4 482.0"/>
<path d="M31.6 481.5C39.2 482.5 61.7 484.9 77.2 487.6C92.7 490.4 111.8 494.9 124.4 498.0C137.0 501.1 146.9 504.7 152.8 506.5C158.7 508.3 158.8 508.6 160.0 509.0"/>
<path d="M162.4 482.0C165.5 480.5 175.5 476.2 181.0 473.0C186.5 469.8 188.9 467.9 195.2 462.6C201.5 457.3 212.6 446.9 218.9 441.4C225.2 435.9 227.8 433.2 233.0 429.6C238.2 426.1 243.0 423.7 250.0 420.1C257.0 416.5 266.7 411.4 275.0 408.0C283.3 404.6 290.8 402.7 300.0 400.0C309.2 397.3 318.3 394.2 330.0 392.0C341.7 389.8 363.3 387.8 370.0 387.0"/>
<path d="M162.4 482.0C165.3 481.1 174.6 478.8 180.0 476.5C185.4 474.2 188.5 472.8 195.0 468.0C201.5 463.2 213.1 452.6 218.9 448.0C224.7 443.4 225.7 443.6 230.0 440.6C234.3 437.6 240.0 433.3 245.0 430.0C250.0 426.7 255.0 424.0 260.0 421.0C265.0 418.0 270.0 414.6 275.0 412.0C280.0 409.4 285.0 407.4 290.0 405.4C295.0 403.4 298.5 402.1 305.0 400.0C311.5 397.9 325.0 393.8 329.0 392.5"/>
<path d="M162.4 482.0C168.7 479.3 190.6 471.0 200.0 466.0C209.4 461.0 213.9 455.5 218.9 452.0C223.9 448.5 223.2 449.7 230.0 445.0C236.8 440.3 250.0 430.2 260.0 424.0C270.0 417.8 281.0 411.8 290.0 407.5C299.0 403.2 305.7 400.9 314.0 398.5C322.3 396.1 335.7 393.9 340.0 393.0"/>
<path d="M162.4 482.0C164.7 481.0 172.9 478.1 176.0 476.0C179.1 473.9 179.4 471.5 181.0 469.7C182.6 467.9 185.0 465.8 185.8 465.0"/>
<path d="M162.4 482.0C166.3 482.7 178.0 483.5 185.8 486.2C193.6 488.9 202.3 494.6 209.4 498.0C216.5 501.4 224.2 504.7 228.3 506.5C232.4 508.3 233.1 508.6 234.0 509.0"/>
<path d="M162.4 482.0C167.0 482.8 180.6 485.1 190.0 487.0C199.4 488.9 211.0 490.5 218.9 493.3C226.8 496.1 233.4 501.3 237.7 503.7C242.0 506.1 243.6 506.9 244.8 507.5"/>
</g>
<path d="M48.2 465.9H162.3V498.1H48.2ZM67.2 465.9V498.1M86.2 465.9V498.1M105.3 465.9V498.1M124.3 465.9V498.1M143.3 465.9V498.1" fill="none" stroke="#222" stroke-width="0.9" stroke-linejoin="round"/>
<path d="M298.2 415.0L313.7 404.0L329.2 392.5L349.5 379.8L375.0 372.4L402.8 369.3L421.0 367.7M317.4 440.6L332.1 429.4L347.7 417.8L362.3 409.1L379.6 404.0L405.5 401.3L424.1 400.2M298.2 415.0L317.4 440.6M313.7 404.0L332.1 429.4M329.2 392.5L347.7 417.8M349.5 379.8L362.3 409.1M375.0 372.4L379.6 404.0M402.8 369.3L405.5 401.3M421.0 367.7L424.1 400.2" fill="none" stroke="#222" stroke-width="0.9" stroke-linejoin="round" stroke-linecap="round"/>
<path d="M162.5 481.8C166.2 481.6 177.9 481.3 185.0 480.8C192.1 480.3 197.5 479.8 205.0 478.6C212.5 477.4 223.3 475.2 230.0 473.6C236.7 472.0 240.0 470.9 245.0 469.1C250.0 467.4 255.0 465.4 260.0 463.1C265.0 460.9 270.1 458.6 275.1 455.6C280.1 452.6 285.9 448.9 290.1 445.1C294.4 441.4 297.6 436.9 300.6 433.1C303.6 429.4 305.6 425.9 308.1 422.6C310.6 419.4 312.6 416.5 315.6 413.6C318.6 410.7 321.9 408.1 326.1 405.4C330.4 402.7 336.1 399.8 341.1 397.6C346.1 395.5 351.4 394.0 356.2 392.5C361.0 391.0 365.2 389.7 370.0 388.6C374.8 387.5 379.4 386.6 385.0 385.8C390.6 385.0 397.3 384.4 403.6 384.0C409.9 383.6 419.7 383.3 422.9 383.2" fill="none" stroke="#e020e0" stroke-width="1.3" stroke-linecap="round"/>
<circle cx="162.4" cy="481.8" r="1" fill="#e8c020"/>
<path d="M422.9 384.0L440.5 384.4" stroke="#2aa7b8" stroke-width="1.2" fill="none"/>
<path d="M447.5 384.6L440.4 387.1L442.3 384.5L440.6 381.7Z" fill="#2aa7b8"/>
<path d="M422.9 383.2L440.5 383.1" stroke="#e8313a" stroke-width="1.2" fill="none"/>
<path d="M447.5 383.0L440.5 385.8L442.3 383.0L440.5 380.4Z" fill="#e8313a"/>
<rect x="32.0" y="359.4" width="424.0" height="146.8" fill="none" stroke="#dcdcdc" stroke-width="1.3"/>
<path d="M48.2 506.2v-3.5M48.2 359.4v3.5M129.7 506.2v-3.5M129.7 359.4v3.5M211.2 506.2v-3.5M211.2 359.4v3.5M292.7 506.2v-3.5M292.7 359.4v3.5M374.2 506.2v-3.5M374.2 359.4v3.5M455.7 506.2v-3.5M455.7 359.4v3.5M32.0 482.0h3.5M456.0 482.0h-3.5M32.0 449.4h3.5M456.0 449.4h-3.5M32.0 416.8h3.5M456.0 416.8h-3.5M32.0 384.2h3.5M456.0 384.2h-3.5" stroke="#999" stroke-width="0.7" fill="none"/>
<text x="29.3" y="484.4" font-size="6.6" fill="#444" text-anchor="end">0</text>
<text x="29.3" y="451.8" font-size="6.6" fill="#444" text-anchor="end">20</text>
<text x="29.3" y="419.2" font-size="6.6" fill="#444" text-anchor="end">40</text>
<text x="29.3" y="386.6" font-size="6.6" fill="#444" text-anchor="end">60</text>
<text x="48.2" y="515.8" font-size="6.6" fill="#444" text-anchor="middle">0</text>
<text x="129.7" y="515.8" font-size="6.6" fill="#444" text-anchor="middle">50</text>
<text x="211.2" y="515.8" font-size="6.6" fill="#444" text-anchor="middle">100</text>
<text x="292.7" y="515.8" font-size="6.6" fill="#444" text-anchor="middle">150</text>
<text x="374.2" y="515.8" font-size="6.6" fill="#444" text-anchor="middle">200</text>
<text x="455.7" y="515.8" font-size="6.6" fill="#444" text-anchor="middle">250</text>
<text transform="translate(13.0 434.4) rotate(-90)" font-size="11.5" fill="#151515" stroke="#151515" stroke-width="0.15" text-anchor="middle">Y-axis displacement (cm)</text>
<text x="87.5" y="411.6" font-size="11.7" fill="#111" stroke="#111" stroke-width="0.15" textLength="113.3" lengthAdjust="spacingAndGlyphs">Number of waves = 78</text>
<text x="255.5" y="477.4" font-size="11.7" fill="#111" stroke="#111" stroke-width="0.15" textLength="112.7" lengthAdjust="spacingAndGlyphs">Number of waves = 42</text>
<text x="256.3" y="530.5" font-size="11.4" fill="#151515" stroke="#151515" stroke-width="0.15" text-anchor="middle">X-axis displacement (cm)</text>
<text x="4.2" y="165.8" font-size="11.8" fill="#111" stroke="#111" stroke-width="0.45" textLength="34.3" lengthAdjust="spacingAndGlyphs">(a)RRT</text>
<text x="4.4" y="341" font-size="11.8" fill="#111" stroke="#111" stroke-width="0.45" textLength="131.4" lengthAdjust="spacingAndGlyphs">(b)Combined RRT ellipse</text>
<text x="3.6" y="543.2" font-size="11.8" fill="#111" stroke="#111" stroke-width="0.45" textLength="189" lengthAdjust="spacingAndGlyphs">(c) Enhanced Combined RRT ellipse</text>
</svg></body></html>
